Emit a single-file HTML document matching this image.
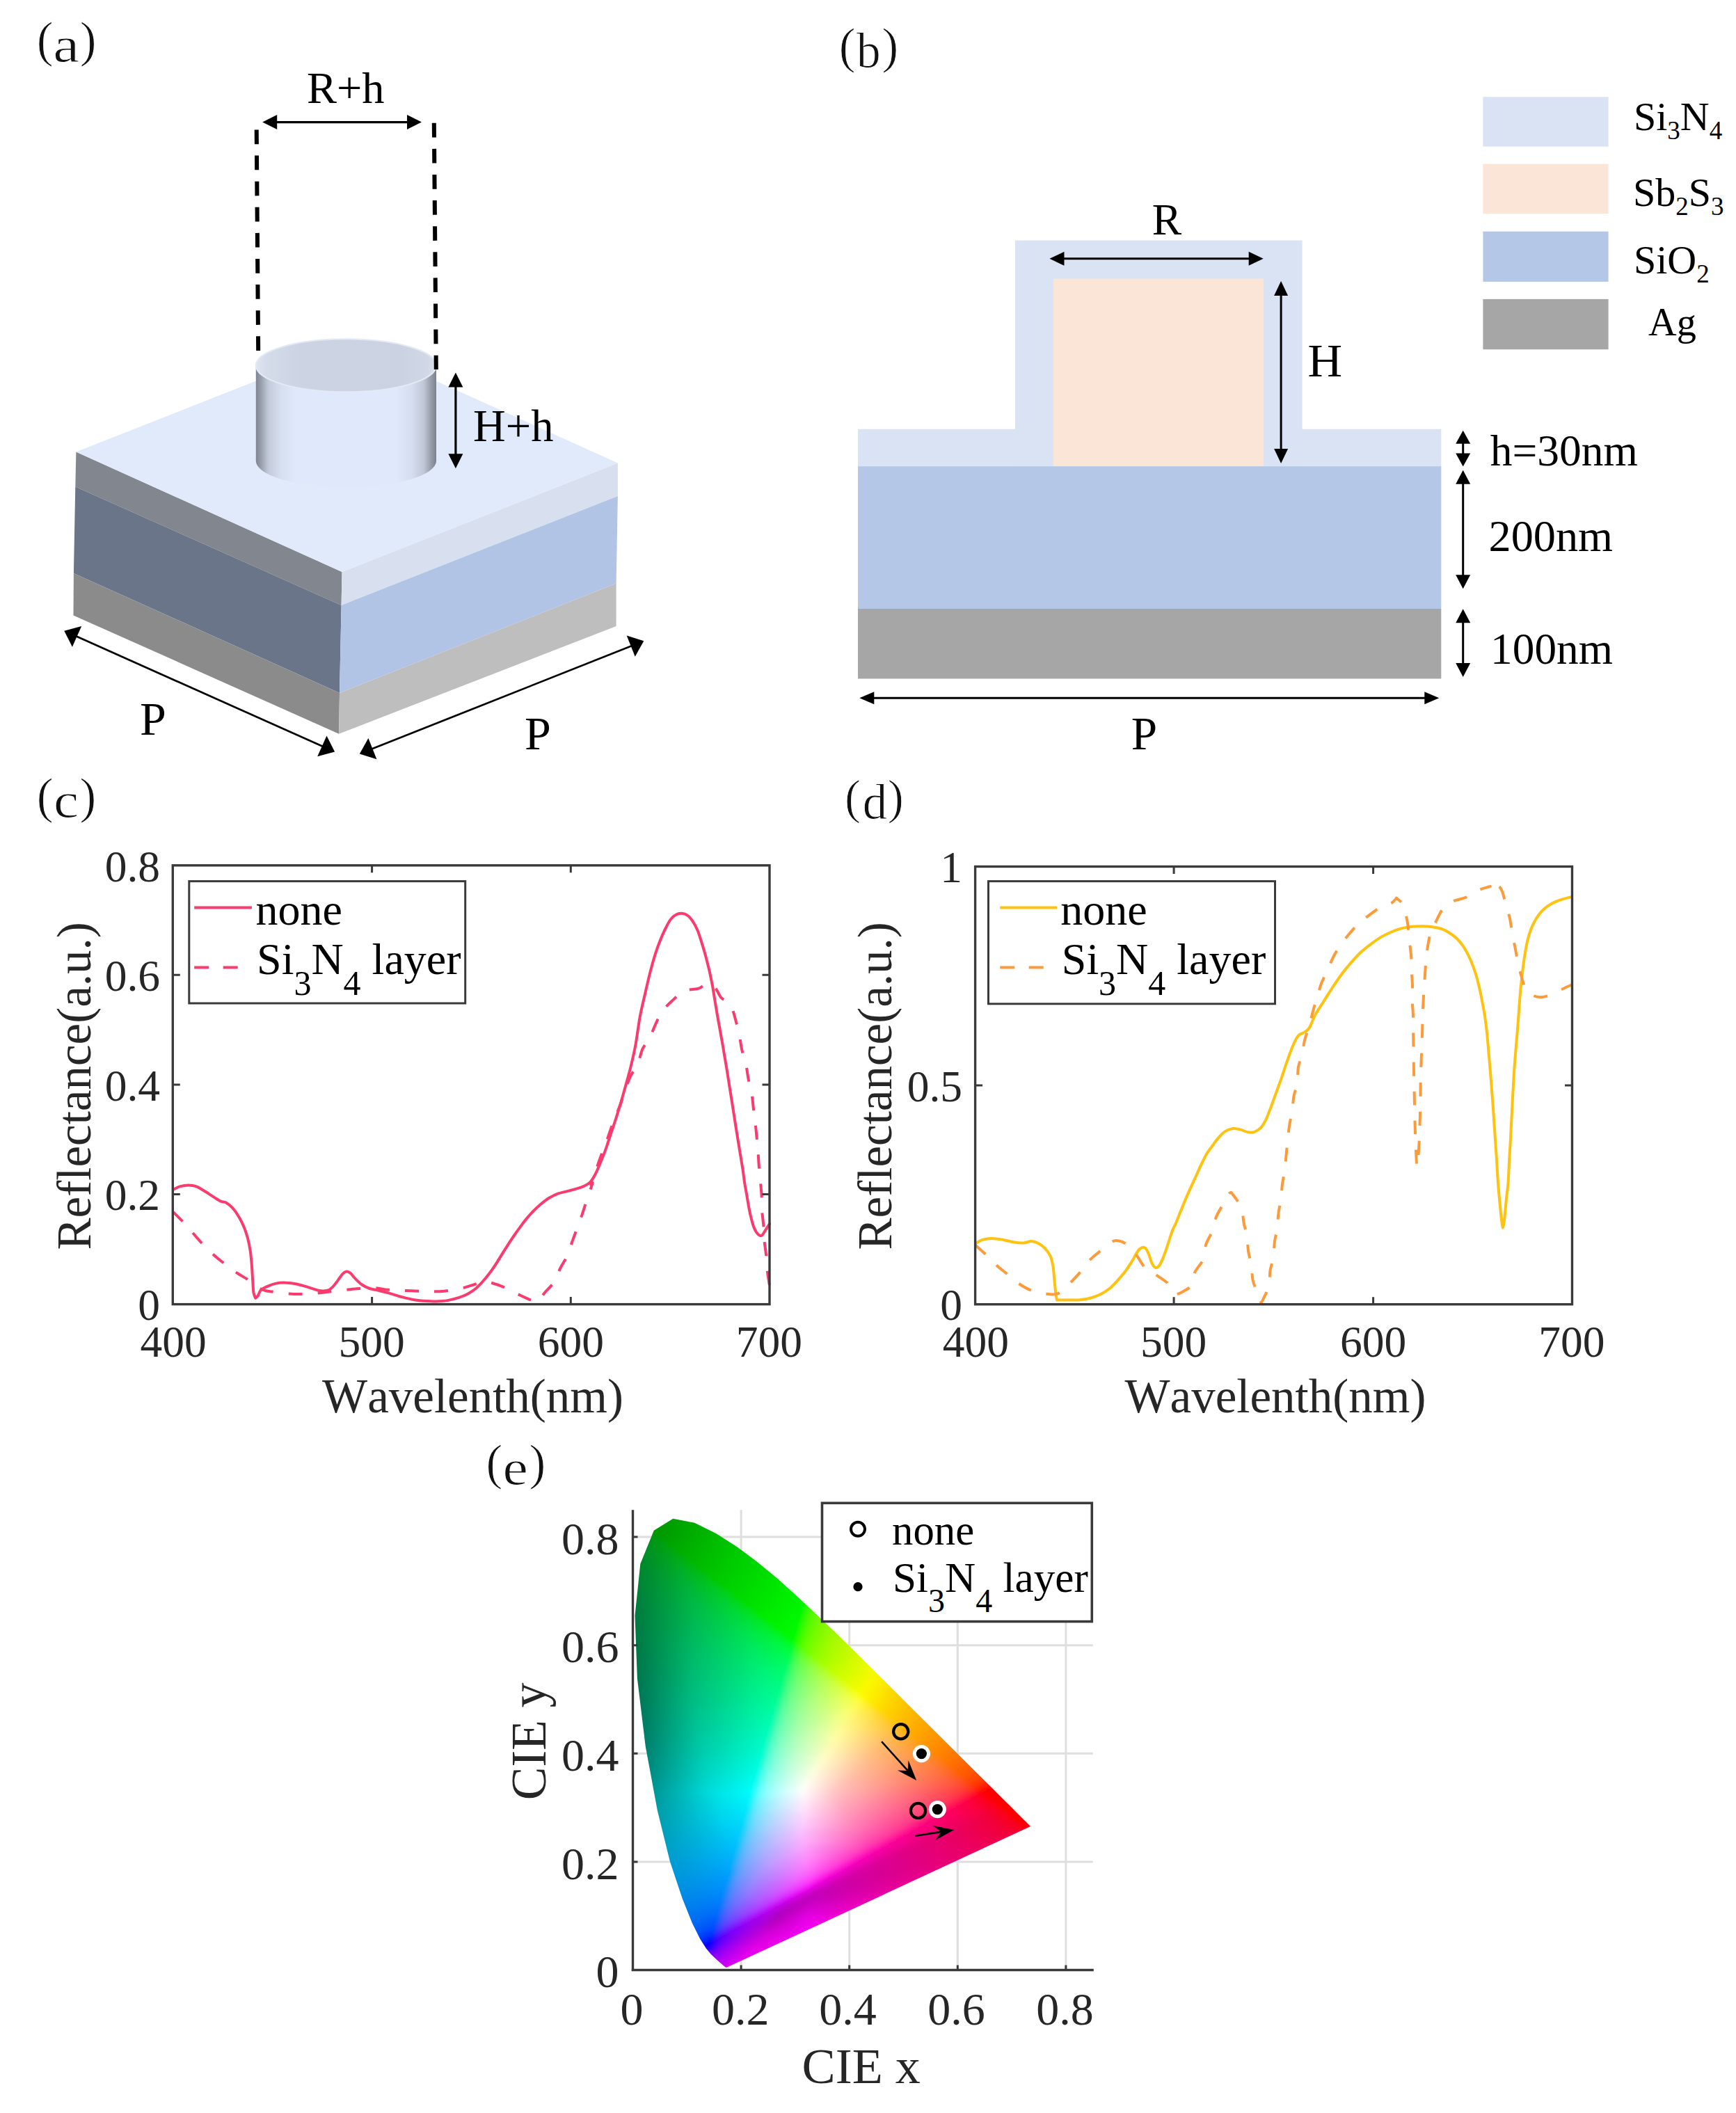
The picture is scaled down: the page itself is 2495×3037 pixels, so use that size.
<!DOCTYPE html>
<html><head><meta charset="utf-8"><title>Figure</title>
<style>
html,body{margin:0;padding:0;background:#fff}
svg{display:block}
text{font-family:"Liberation Serif",serif;font-kerning:none;font-variant-ligatures:none;white-space:pre}
</style></head><body>
<svg width="2495" height="3037" viewBox="0 0 2495 3037">
<rect width="2495" height="3037" fill="#fff"/>
<text fill="#111" stroke="#fff" stroke-width="0.9"><tspan x="52.7" y="80.8" font-size="71.4">(</tspan><tspan x="76.2" y="89.0" font-size="72" stroke-width="0.9" textLength="38.0" lengthAdjust="spacingAndGlyphs">a</tspan><tspan x="114.7" y="80.8" font-size="71.4">)</tspan></text>
<text fill="#111" stroke="#fff" stroke-width="0.9"><tspan x="1205.8" y="89.9" font-size="71.2">(</tspan><tspan x="1231.0" y="97.0" font-size="72" stroke-width="0.9" textLength="34.6" lengthAdjust="spacingAndGlyphs">b</tspan><tspan x="1267.4" y="89.9" font-size="71.2">)</tspan></text>
<text fill="#111" stroke="#fff" stroke-width="0.9"><tspan x="52.7" y="1167.7" font-size="71.4">(</tspan><tspan x="77.1" y="1175.2" font-size="72" stroke-width="0.9" textLength="36.0" lengthAdjust="spacingAndGlyphs">c</tspan><tspan x="114.4" y="1167.7" font-size="71.4">)</tspan></text>
<text fill="#111" stroke="#fff" stroke-width="0.9"><tspan x="1214.1" y="1168.6" font-size="69.3">(</tspan><tspan x="1239.7" y="1177.0" font-size="72" stroke-width="0.9" textLength="35.4" lengthAdjust="spacingAndGlyphs">d</tspan><tspan x="1275.7" y="1168.6" font-size="69.3">)</tspan></text>
<text fill="#111" stroke="#fff" stroke-width="0.9"><tspan x="698.4" y="2126.0" font-size="71.4">(</tspan><tspan x="722.5" y="2134.3" font-size="72" stroke-width="0.9" textLength="36.3" lengthAdjust="spacingAndGlyphs">e</tspan><tspan x="760.4" y="2126.0" font-size="71.4">)</tspan></text>
<g id="panelA">
<polygon points="109.4,649.6 491.5,822.0 490.6,869.9 108.3,699.5" fill="#82868f"/>
<polygon points="491.5,822.0 887.9,665.5 887.9,713.0 490.6,869.9" fill="#d8e0f0"/>
<polygon points="108.3,699.5 490.6,869.9 488.0,996.0 105.9,823.9" fill="#6a7589"/>
<polygon points="490.6,869.9 887.9,713.0 885.6,838.5 488.0,996.0" fill="#b1c4e5"/>
<polygon points="105.9,823.9 488.0,996.0 487.1,1054.8 105.5,884.4" fill="#8b8b8b"/>
<polygon points="488.0,996.0 885.6,838.5 885.6,900.0 487.1,1054.8" fill="#bebebe"/>
<polygon points="109.4,649.6 491.5,822.0 887.9,665.5 505.8,493.1" fill="#e1eafb"/>
<defs><linearGradient id="cylg" x1="0" x2="1" y1="0" y2="0">
<stop offset="0" stop-color="#7f8590"/><stop offset="0.03" stop-color="#9aa1ae"/><stop offset="0.07" stop-color="#c3cbda"/><stop offset="0.14" stop-color="#d6dff0"/><stop offset="0.22" stop-color="#e0e9fb"/>
<stop offset="0.78" stop-color="#e0e9fb"/><stop offset="0.86" stop-color="#d6dff0"/><stop offset="0.93" stop-color="#c0c8d7"/><stop offset="0.97" stop-color="#979eab"/><stop offset="1" stop-color="#7b818c"/></linearGradient>
<linearGradient id="cylt" x1="0" x2="1" y1="0" y2="0"><stop offset="0" stop-color="#e0e6f1"/><stop offset="0.06" stop-color="#d4dbe9"/><stop offset="0.25" stop-color="#ccd4e4"/><stop offset="0.8" stop-color="#cbd3e3"/><stop offset="0.95" stop-color="#d0d7e6"/><stop offset="1" stop-color="#dde3ee"/></linearGradient></defs>
<path d="M367.8,525.3 L367.8,662.4 A129.6,38.0 0 0 0 627.0,662.4 L627.0,525.3 Z" fill="url(#cylg)"/>
<ellipse cx="497.4" cy="525.3" rx="129.6" ry="38.0" fill="url(#cylt)" stroke="#e3e9f5" stroke-width="2"/>
<line x1="368.7" y1="186.5" x2="371.2" y2="505.5" stroke="#000" stroke-width="6" stroke-dasharray="20.7 16.4"/>
<line x1="623.8" y1="176.8" x2="626.8" y2="531" stroke="#000" stroke-width="6" stroke-dasharray="20.7 16.4"/>
<line x1="394.0" y1="175.6" x2="589.2" y2="175.6" stroke="#000" stroke-width="3.2"/>
<polygon points="377.2,175.6 398.2,165.1 398.2,186.1" fill="#000"/>
<polygon points="606.0,175.6 585.0,186.1 585.0,165.1" fill="#000"/>
<line x1="654.9" y1="552.4" x2="654.9" y2="656.4" stroke="#000" stroke-width="3.2"/>
<polygon points="654.9,535.6 665.4,556.6 644.4,556.6" fill="#000"/>
<polygon points="654.9,673.2 644.4,652.2 665.4,652.2" fill="#000"/>
<line x1="106.9" y1="913.2" x2="466.5" y2="1074.1" stroke="#000" stroke-width="2.7"/>
<polygon points="92.3,906.7 117.2,900.0 103.9,929.7" fill="#000"/>
<polygon points="481.1,1080.6 456.2,1087.3 469.5,1057.6" fill="#000"/>
<line x1="910.4" y1="927.2" x2="531.7" y2="1077.6" stroke="#000" stroke-width="2.7"/>
<polygon points="925.3,921.3 912.7,943.8 900.7,913.6" fill="#000"/>
<polygon points="516.8,1083.5 529.4,1061.0 541.4,1091.2" fill="#000"/>
<text x="441.0" y="148.0" font-size="64.4" fill="#000">R+h</text>
<text x="680.1" y="633.9" font-size="64.6" fill="#000">H+h</text>
<text x="201.0" y="1055.5" font-size="68.0" fill="#000">P</text>
<text x="754.0" y="1077.0" font-size="68.0" fill="#000">P</text>
</g>
<g id="panelB">
<rect x="1233" y="616.7" width="838.3" height="53.7" fill="#dae3f3"/>
<rect x="1458.9" y="345.6" width="412.7" height="324.8" fill="#dae3f3"/>
<rect x="1513.7" y="400.6" width="302.4" height="269.8" fill="#fbe5d6"/>
<rect x="1233" y="670.2" width="838.3" height="205.0" fill="#b4c7e7"/>
<rect x="1233" y="875.0" width="838.3" height="100.5" fill="#a6a6a6"/>
<rect x="2131.4" y="139.3" width="180.2" height="71.3" fill="#dae3f3"/>
<rect x="2131.4" y="235.6" width="180.2" height="71.4" fill="#fbe5d6"/>
<rect x="2131.4" y="332.7" width="180.2" height="72.2" fill="#b4c7e7"/>
<rect x="2131.4" y="429.9" width="180.2" height="72.3" fill="#a6a6a6"/>
<line x1="1525.3" y1="371.8" x2="1798.9" y2="371.8" stroke="#000" stroke-width="3"/>
<polygon points="1508.5,371.8 1529.5,361.8 1529.5,381.8" fill="#000"/>
<polygon points="1815.7,371.8 1794.7,381.8 1794.7,361.8" fill="#000"/>
<line x1="1841.1" y1="420.8" x2="1841.1" y2="649.3" stroke="#000" stroke-width="3"/>
<polygon points="1841.1,404.0 1851.1,425.0 1831.1,425.0" fill="#000"/>
<polygon points="1841.1,666.1 1831.1,645.1 1851.1,645.1" fill="#000"/>
<line x1="2102.7" y1="634.0" x2="2102.7" y2="655.4" stroke="#000" stroke-width="3"/>
<polygon points="2102.7,618.8 2113.2,637.8 2092.2,637.8" fill="#000"/>
<polygon points="2102.7,670.6 2092.2,651.6 2113.2,651.6" fill="#000"/>
<line x1="2102.7" y1="691.8" x2="2102.7" y2="830.2" stroke="#000" stroke-width="3"/>
<polygon points="2102.7,675.8 2113.2,695.8 2092.2,695.8" fill="#000"/>
<polygon points="2102.7,846.2 2092.2,826.2 2113.2,826.2" fill="#000"/>
<line x1="2102.7" y1="891.2" x2="2102.7" y2="957.0" stroke="#000" stroke-width="3"/>
<polygon points="2102.7,875.2 2113.2,895.2 2092.2,895.2" fill="#000"/>
<polygon points="2102.7,973.0 2092.2,953.0 2113.2,953.0" fill="#000"/>
<line x1="1252.1" y1="1003.2" x2="2051.5" y2="1003.2" stroke="#000" stroke-width="3"/>
<polygon points="1235.3,1003.2 1256.3,994.2 1256.3,1012.2" fill="#000"/>
<polygon points="2068.3,1003.2 2047.3,1012.2 2047.3,994.2" fill="#000"/>
<text x="1655.8" y="337.1" font-size="63.5" fill="#000">R</text>
<text x="1879.4" y="541.3" font-size="68.7" fill="#000">H</text>
<text x="2141.8" y="668.9" font-size="63.5" fill="#000">h=30nm</text>
<text x="2139.5" y="792.3" font-size="64.3" fill="#000">200nm</text>
<text x="2142.1" y="954.0" font-size="63.3" fill="#000">100nm</text>
<text x="1625.7" y="1077.4" font-size="67.2" fill="#000">P</text>
<text fill="#000"><tspan x="2348.0" y="187.1" font-size="58">Si</tspan><tspan x="2396.3" y="199.6" font-size="37">3</tspan><tspan x="2414.8" y="187.1" font-size="58">N</tspan><tspan x="2456.7" y="199.6" font-size="37">4</tspan></text>
<text fill="#000"><tspan x="2347.0" y="296.3" font-size="58">Sb</tspan><tspan x="2408.2" y="308.8" font-size="37">2</tspan><tspan x="2426.7" y="296.3" font-size="58">S</tspan><tspan x="2458.9" y="308.8" font-size="37">3</tspan></text>
<text fill="#000"><tspan x="2348.0" y="393.0" font-size="58">SiO</tspan><tspan x="2438.2" y="405.5" font-size="37">2</tspan></text>
<text x="2369.0" y="481.8" font-size="56.3" fill="#000">Ag</text>
</g>
<g id="plotC">
<clipPath id="cpC"><rect x="248.3" y="1243.8" width="859.7" height="630.8"/></clipPath>
<g clip-path="url(#cpC)" fill="none" stroke-width="4" stroke-linejoin="round">
<path d="M248.3,1710.0 C249.9,1709.3 254.7,1706.5 258.4,1705.4 C262.1,1704.4 267.5,1703.6 271.3,1703.6 C275.2,1703.6 278.6,1704.0 282.4,1705.4 C286.2,1706.9 291.2,1710.3 295.3,1712.8 C299.4,1715.3 304.7,1718.9 308.2,1721.1 C311.7,1723.3 314.8,1725.5 317.4,1726.6 C320.1,1727.8 322.1,1727.0 324.8,1728.5 C327.4,1730.0 331.1,1732.6 334.0,1735.9 C337.0,1739.1 340.6,1744.3 343.2,1748.8 C345.9,1753.2 348.5,1758.5 350.6,1763.5 C352.7,1768.5 354.7,1774.5 356.1,1780.1 C357.6,1785.7 358.9,1792.6 359.8,1798.5 C360.7,1804.4 361.1,1810.5 361.7,1817.0 C362.2,1823.4 362.7,1832.6 363.1,1839.1 C363.6,1845.6 363.8,1853.2 364.4,1857.5 C365.1,1861.8 366.7,1864.5 367.2,1865.8 C367.8,1865.2 369.7,1863.9 370.9,1862.1 C372.1,1860.4 372.5,1856.8 374.6,1854.7 C376.6,1852.7 380.2,1850.8 383.8,1849.2 C387.3,1847.6 392.3,1845.5 396.7,1844.6 C401.1,1843.7 406.7,1843.5 411.4,1843.7 C416.1,1843.8 421.2,1844.5 426.2,1845.5 C431.2,1846.6 437.8,1848.7 442.8,1850.1 C447.8,1851.6 453.1,1854.0 457.5,1854.7 C461.9,1855.5 467.2,1855.5 470.4,1854.7 C473.7,1854.0 475.4,1852.4 477.8,1850.1 C480.1,1847.9 482.8,1844.0 485.2,1840.9 C487.5,1837.8 490.5,1832.9 492.5,1830.8 C494.6,1828.7 496.3,1827.8 498.1,1827.6 C499.8,1827.5 501.5,1828.2 503.6,1829.9 C505.7,1831.5 508.3,1835.5 511.0,1838.2 C513.6,1840.8 516.9,1844.2 520.2,1846.5 C523.4,1848.7 527.4,1850.7 531.2,1852.0 C535.1,1853.3 539.8,1853.7 544.1,1854.7 C548.5,1855.8 553.2,1857.0 558.4,1858.4 C563.7,1859.9 571.0,1862.4 576.9,1864.0 C582.8,1865.5 589.4,1867.2 595.3,1868.2 C601.2,1869.2 608.7,1869.7 613.7,1870.0 C618.7,1870.4 621.9,1870.6 626.6,1870.4 C631.4,1870.3 637.9,1870.0 643.2,1869.1 C648.5,1868.2 655.1,1866.4 659.8,1864.9 C664.5,1863.3 668.9,1861.4 672.7,1859.4 C676.6,1857.3 680.5,1854.6 683.8,1852.0 C687.0,1849.3 690.0,1846.0 693.0,1842.8 C695.9,1839.5 699.3,1835.5 702.2,1831.7 C705.2,1827.9 708.5,1823.2 711.4,1818.8 C714.4,1814.4 717.7,1808.8 720.6,1804.1 C723.6,1799.3 726.9,1793.9 729.9,1789.3 C732.8,1784.7 736.1,1779.8 739.1,1775.5 C742.0,1771.2 745.3,1766.6 748.3,1762.6 C751.2,1758.6 754.6,1754.1 757.5,1750.6 C760.5,1747.1 763.5,1743.7 766.7,1740.5 C770.0,1737.2 774.2,1733.3 777.8,1730.3 C781.3,1727.4 785.0,1724.4 788.8,1722.0 C792.7,1719.7 797.0,1717.3 801.8,1715.6 C806.5,1713.9 812.8,1712.9 818.4,1711.3 C824.1,1709.8 832.1,1707.7 836.9,1705.8 C841.6,1703.9 845.0,1702.2 847.9,1699.4 C850.9,1696.6 852.9,1692.7 855.3,1688.3 C857.7,1683.9 860.3,1677.3 862.7,1671.7 C865.0,1666.1 867.7,1659.8 870.0,1653.3 C872.4,1646.8 875.1,1638.2 877.4,1631.2 C879.8,1624.1 882.4,1616.4 884.8,1609.0 C887.2,1601.7 889.8,1593.0 892.2,1585.1 C894.5,1577.1 897.2,1567.8 899.5,1559.3 C901.9,1550.7 904.7,1540.8 906.9,1531.6 C909.1,1522.5 911.3,1513.4 913.4,1502.1 C915.4,1490.9 917.6,1473.1 919.8,1461.2 C922.0,1449.3 924.8,1438.3 927.2,1428.0 C929.5,1417.7 932.2,1405.8 934.6,1396.7 C936.9,1387.5 939.6,1378.2 941.9,1370.9 C944.3,1363.5 946.9,1356.5 949.3,1350.6 C951.7,1344.7 954.3,1338.7 956.7,1334.0 C959.0,1329.3 961.7,1324.2 964.1,1321.1 C966.4,1318.0 968.9,1316.0 971.4,1314.7 C973.9,1313.3 977.1,1312.7 979.7,1312.8 C982.4,1313.0 985.5,1313.8 988.0,1315.6 C990.5,1317.3 993.0,1320.3 995.4,1323.9 C997.8,1327.4 1000.7,1332.8 1002.8,1337.7 C1004.8,1342.6 1006.5,1348.7 1008.3,1354.3 C1010.1,1359.9 1012.1,1366.2 1013.8,1372.7 C1015.6,1379.2 1017.7,1387.8 1019.4,1394.8 C1021.0,1401.9 1022.6,1409.9 1024.0,1417.0 C1025.3,1424.0 1026.5,1432.0 1027.6,1439.1 C1028.8,1446.2 1029.8,1452.4 1031.3,1461.2 C1032.9,1470.0 1035.9,1486.4 1037.2,1493.8 C1038.6,1501.3 1038.4,1500.1 1039.6,1507.6 C1040.9,1515.2 1043.4,1529.9 1045.2,1540.8 C1046.9,1551.7 1048.9,1564.6 1050.7,1575.9 C1052.5,1587.1 1054.5,1599.7 1056.2,1610.9 C1058.0,1622.1 1060.0,1635.0 1061.8,1645.9 C1063.5,1656.8 1065.9,1670.4 1067.3,1679.1 C1068.6,1687.7 1069.3,1694.4 1070.1,1700.0 C1071.0,1705.6 1071.7,1708.7 1072.6,1713.8 C1073.5,1719.0 1074.7,1726.8 1075.7,1732.3 C1076.7,1737.7 1077.7,1743.1 1078.9,1747.9 C1080.1,1752.8 1081.6,1758.8 1083.0,1762.7 C1084.4,1766.5 1086.2,1769.8 1087.6,1771.9 C1089.1,1774.0 1091.0,1775.5 1092.3,1776.0 C1093.5,1776.6 1094.2,1776.4 1095.5,1775.1 C1096.7,1773.9 1098.6,1770.5 1100.1,1768.2 C1101.6,1765.9 1103.5,1762.5 1104.7,1760.8 C1105.9,1759.1 1107.0,1758.1 1107.5,1757.6" stroke="#fb3b6e"/>
<path d="M248.3,1741.4 C250.5,1743.6 257.5,1750.3 262.1,1755.2 C266.7,1760.1 272.4,1766.8 276.9,1771.8 C281.3,1776.8 285.1,1781.5 289.8,1786.5 C294.5,1791.6 301.3,1798.6 306.4,1803.1 C311.4,1807.7 315.8,1811.0 321.1,1815.1 C326.4,1819.2 333.9,1825.1 339.5,1828.9 C345.1,1832.8 351.4,1835.8 356.1,1839.1 C360.8,1842.3 365.2,1846.7 369.0,1849.2 C372.9,1851.7 376.6,1853.6 380.1,1854.7 C383.6,1855.9 385.5,1855.9 391.2,1856.6 C396.8,1857.3 408.3,1858.8 415.1,1859.4 C421.9,1859.9 426.8,1860.1 433.5,1859.9 C440.3,1859.8 451.0,1859.0 457.5,1858.4 C464.0,1857.9 467.6,1857.3 474.1,1856.6 C480.6,1855.9 491.3,1854.6 498.1,1853.8 C504.8,1853.1 510.0,1852.4 516.5,1852.0 C523.0,1851.5 531.9,1850.8 538.6,1851.1 C545.3,1851.4 550.0,1853.1 558.4,1853.8 C566.9,1854.5 579.8,1854.9 591.6,1855.3 C603.4,1855.7 622.7,1856.5 632.2,1856.2 C641.6,1856.0 644.7,1854.8 650.6,1853.8 C656.5,1852.9 663.7,1851.5 669.0,1850.1 C674.3,1848.8 679.4,1846.8 683.8,1845.5 C688.2,1844.3 693.1,1842.7 696.7,1842.4 C700.2,1842.1 701.5,1842.4 705.9,1843.7 C710.3,1844.9 718.1,1847.5 724.3,1850.1 C730.5,1852.8 738.4,1857.3 744.6,1860.3 C750.8,1863.2 758.5,1866.9 763.0,1868.6 C767.6,1870.3 771.6,1870.4 773.2,1870.8 C774.8,1868.7 779.6,1862.0 783.3,1857.5 C787.0,1853.0 792.7,1848.4 796.2,1842.8 C799.8,1837.2 802.5,1828.4 805.4,1822.5 C808.4,1816.6 812.0,1811.8 814.7,1805.9 C817.3,1800.0 819.7,1792.1 822.0,1785.6 C824.4,1779.1 827.0,1771.8 829.4,1765.3 C831.8,1758.9 834.6,1751.6 836.8,1745.1 C839.0,1738.6 840.9,1731.9 843.2,1724.8 C845.6,1717.7 850.5,1704.6 851.5,1700.8 C852.6,1697.1 848.0,1707.0 849.8,1701.2 C851.6,1695.4 859.4,1673.2 862.7,1664.3 C865.9,1655.5 867.7,1652.4 870.0,1645.9 C872.4,1639.4 875.2,1630.0 877.4,1623.8 C879.6,1617.6 881.5,1613.2 883.9,1607.2 C886.2,1601.1 889.5,1593.4 892.2,1586.0 C894.8,1578.6 898.1,1567.6 900.5,1561.1 C902.8,1554.6 904.4,1550.3 906.9,1545.4 C909.4,1540.6 913.5,1536.7 916.1,1530.7 C918.8,1524.6 920.7,1513.8 923.5,1507.6 C926.3,1501.5 930.5,1498.1 933.6,1492.0 C936.8,1485.8 940.4,1475.6 943.4,1469.3 C946.4,1463.0 948.4,1458.0 952.2,1452.8 C956.0,1447.6 962.5,1441.7 967.4,1437.1 C972.3,1432.5 977.0,1426.9 982.7,1424.3 C988.4,1421.7 998.2,1422.3 1002.9,1421.0 C1007.6,1419.7 1009.2,1417.3 1012.2,1416.2 C1015.2,1415.1 1019.1,1413.6 1021.8,1414.4 C1024.5,1415.2 1026.9,1418.4 1029.2,1421.5 C1031.5,1424.6 1033.9,1431.0 1036.3,1433.8 C1038.7,1436.6 1042.0,1437.1 1044.4,1439.3 C1046.8,1441.5 1049.2,1442.6 1051.4,1447.3 C1053.6,1452.0 1056.1,1461.8 1057.9,1468.5 C1059.7,1475.2 1061.6,1482.9 1062.9,1489.4 C1064.2,1495.9 1064.8,1502.5 1066.3,1509.0 C1067.8,1515.5 1070.6,1523.1 1072.1,1529.8 C1073.6,1536.5 1074.3,1544.5 1075.6,1551.0 C1076.9,1557.5 1079.0,1563.5 1080.2,1570.3 C1081.4,1577.1 1082.1,1586.7 1082.9,1593.4 C1083.8,1600.0 1084.6,1605.2 1085.3,1611.8 C1086.1,1618.4 1086.9,1628.1 1087.6,1634.8 C1088.2,1641.6 1088.9,1647.4 1089.4,1654.2 C1089.9,1661.0 1090.3,1670.5 1090.9,1677.2 C1091.4,1684.0 1092.1,1690.0 1092.7,1696.6 C1093.3,1703.2 1094.2,1711.5 1094.6,1718.4 C1094.9,1725.3 1094.6,1732.8 1095.0,1739.6 C1095.5,1746.4 1096.8,1754.2 1097.3,1760.8 C1097.8,1767.5 1097.7,1774.3 1098.2,1781.1 C1098.8,1787.9 1100.4,1796.4 1101.0,1803.2 C1101.7,1810.0 1101.7,1816.7 1102.4,1823.5 C1103.1,1830.3 1104.8,1840.3 1105.6,1845.6 C1106.4,1850.9 1107.2,1854.9 1107.5,1856.7" stroke="#fb3b6e" stroke-dasharray="20 22"/>
</g>
<rect x="248.3" y="1243.8" width="857.7" height="630.8" fill="none" stroke="#3a3a3a" stroke-width="3.4"/>
<path d="M534.6,1874.6 v-10.5 M534.6,1243.8 v10.5" stroke="#3a3a3a" stroke-width="3"/>
<path d="M820.3,1874.6 v-10.5 M820.3,1243.8 v10.5" stroke="#3a3a3a" stroke-width="3"/>
<path d="M248.3,1401.3 h10.5 M1106.0,1401.3 h-10.5" stroke="#3a3a3a" stroke-width="3"/>
<path d="M248.3,1558.9 h10.5 M1106.0,1558.9 h-10.5" stroke="#3a3a3a" stroke-width="3"/>
<path d="M248.3,1716.5 h10.5 M1106.0,1716.5 h-10.5" stroke="#3a3a3a" stroke-width="3"/>
<text x="201.5" y="1950.3" font-size="63.5" fill="#262626">400</text>
<text x="486.6" y="1950.3" font-size="63.5" fill="#262626">500</text>
<text x="772.8" y="1950.3" font-size="63.5" fill="#262626">600</text>
<text x="1057.8" y="1950.3" font-size="63.5" fill="#262626">700</text>
<text x="230.0" y="1266.6" font-size="63.5" fill="#262626" text-anchor="end">0.8</text>
<text x="230.0" y="1424.1" font-size="63.5" fill="#262626" text-anchor="end">0.6</text>
<text x="230.0" y="1581.7" font-size="63.5" fill="#262626" text-anchor="end">0.4</text>
<text x="230.0" y="1739.3" font-size="63.5" fill="#262626" text-anchor="end">0.2</text>
<text x="230.0" y="1897.3" font-size="63.5" fill="#262626" text-anchor="end">0</text>
<text x="463.0" y="2030.0" font-size="69.0" fill="#262626">Wavelenth(nm)</text>
<text transform="translate(129.6,1796.4) rotate(-90)" font-size="69.0" fill="#262626">Reflectance(a.u.)</text>
<rect x="271.8" y="1266.6" width="396.90000000000003" height="175.4000000000001" fill="#fff" stroke="#3a3a3a" stroke-width="3"/>
<line x1="279.2" y1="1304.4" x2="361.9" y2="1304.4" stroke="#fb3b6e" stroke-width="4"/>
<line x1="279.2" y1="1390.5" x2="361.9" y2="1390.5" stroke="#fb3b6e" stroke-width="4" stroke-dasharray="21 20.5"/>
<text x="367.6" y="1328.6" font-size="64" fill="#000">none</text>
<text fill="#000"><tspan x="369.1" y="1399.6" font-size="64">Si</tspan><tspan x="422.4" y="1429.6" font-size="50">3</tspan><tspan x="447.4" y="1399.6" font-size="64">N</tspan><tspan x="493.6" y="1429.6" font-size="50">4</tspan><tspan x="518.6" y="1399.6" font-size="64"> layer</tspan></text>
</g>
<g id="plotD">
<clipPath id="cpD"><rect x="1401.6" y="1245.5" width="859.9000000000001" height="629.2"/></clipPath>
<g clip-path="url(#cpD)" fill="none" stroke-width="4" stroke-linejoin="round">
<path d="M1401.6,1787.5 C1403.3,1786.6 1408.4,1783.1 1412.1,1781.9 C1415.9,1780.8 1420.3,1780.1 1425.0,1780.1 C1429.7,1780.1 1436.3,1781.1 1441.6,1781.9 C1446.9,1782.8 1453.5,1784.9 1458.2,1785.6 C1462.9,1786.4 1467.3,1786.8 1471.1,1786.5 C1474.9,1786.3 1478.6,1784.0 1482.2,1784.1 C1485.7,1784.3 1490.0,1785.8 1493.2,1787.5 C1496.5,1789.2 1499.8,1791.9 1502.4,1794.8 C1505.1,1797.8 1508.0,1801.8 1509.8,1805.9 C1511.6,1810.0 1512.6,1815.3 1513.5,1820.6 C1514.4,1826.0 1514.8,1833.2 1515.3,1839.1 C1515.9,1845.0 1516.6,1852.8 1517.2,1857.5 C1517.8,1862.2 1518.7,1866.8 1519.0,1868.6 C1521.4,1868.6 1528.5,1868.6 1533.8,1868.6 C1539.1,1868.5 1546.9,1868.6 1552.2,1868.2 C1557.5,1867.8 1562.2,1867.1 1567.0,1865.8 C1571.7,1864.5 1577.3,1862.5 1581.7,1860.3 C1586.1,1858.1 1590.8,1855.1 1594.6,1852.0 C1598.4,1848.9 1602.1,1844.8 1605.7,1840.9 C1609.2,1837.1 1613.2,1832.7 1616.7,1828.0 C1620.3,1823.3 1624.8,1816.1 1627.8,1811.4 C1630.7,1806.7 1633.1,1801.4 1635.2,1798.5 C1637.2,1795.6 1638.9,1794.1 1640.7,1793.4 C1642.5,1792.6 1644.6,1792.5 1646.2,1793.9 C1647.8,1795.3 1649.4,1798.8 1650.8,1802.2 C1652.3,1805.6 1654.0,1812.0 1655.4,1815.1 C1656.9,1818.2 1658.6,1820.7 1660.0,1821.6 C1661.5,1822.5 1663.0,1822.3 1664.7,1820.6 C1666.3,1819.0 1668.1,1816.1 1670.2,1811.4 C1672.2,1806.7 1675.2,1797.9 1677.6,1791.2 C1679.9,1784.4 1682.9,1774.3 1684.9,1769.0 C1686.9,1763.7 1688.0,1762.7 1690.0,1758.0 C1692.0,1753.3 1694.7,1746.0 1697.4,1739.5 C1700.0,1733.1 1703.6,1724.2 1706.6,1717.4 C1709.5,1710.6 1712.9,1703.6 1715.8,1697.1 C1718.8,1690.7 1722.1,1683.1 1725.0,1676.9 C1728.0,1670.7 1731.3,1663.4 1734.2,1658.4 C1737.2,1653.4 1741.1,1648.8 1743.5,1645.5 C1745.8,1642.2 1746.3,1640.8 1749.0,1637.8 C1751.6,1634.8 1756.5,1629.2 1760.0,1626.7 C1763.6,1624.2 1767.6,1622.7 1771.1,1622.1 C1774.6,1621.6 1778.6,1622.6 1782.2,1623.4 C1785.7,1624.2 1790.0,1626.5 1793.2,1627.1 C1796.5,1627.7 1799.5,1628.0 1802.4,1627.1 C1805.4,1626.2 1809.0,1623.9 1811.7,1621.2 C1814.3,1618.5 1816.7,1614.9 1819.0,1610.1 C1821.4,1605.4 1824.0,1597.9 1826.4,1591.7 C1828.8,1585.5 1831.4,1577.9 1833.8,1571.4 C1836.1,1564.9 1838.8,1557.9 1841.2,1551.2 C1843.5,1544.4 1846.2,1535.8 1848.5,1529.0 C1850.9,1522.2 1853.8,1514.1 1855.9,1508.8 C1858.0,1503.4 1859.7,1499.2 1861.4,1495.9 C1863.2,1492.5 1864.9,1489.5 1867.0,1487.6 C1869.0,1485.6 1872.0,1485.5 1874.3,1483.9 C1876.7,1482.2 1879.1,1481.6 1881.7,1477.4 C1884.3,1473.2 1887.3,1463.9 1890.8,1457.5 C1894.4,1451.1 1899.6,1443.7 1903.7,1437.2 C1907.9,1430.7 1912.5,1423.2 1916.6,1417.0 C1920.8,1410.8 1925.4,1404.0 1929.5,1398.5 C1933.7,1393.1 1938.3,1387.6 1942.4,1382.9 C1946.6,1378.1 1950.9,1373.2 1955.3,1369.0 C1959.8,1364.9 1965.4,1360.6 1970.1,1357.1 C1974.8,1353.5 1980.1,1349.7 1984.8,1346.9 C1989.6,1344.1 1994.9,1341.5 1999.6,1339.5 C2004.3,1337.5 2009.6,1335.6 2014.3,1334.4 C2019.1,1333.1 2024.4,1332.3 2029.1,1331.8 C2033.8,1331.3 2039.1,1331.2 2043.8,1331.2 C2048.5,1331.3 2054.1,1331.6 2058.6,1332.2 C2063.0,1332.8 2067.6,1333.6 2071.5,1334.9 C2075.3,1336.3 2079.0,1338.2 2082.5,1340.5 C2086.1,1342.7 2090.4,1345.7 2093.6,1348.8 C2096.8,1351.9 2100.2,1356.0 2102.8,1359.8 C2105.5,1363.6 2108.0,1368.3 2110.2,1372.7 C2112.4,1377.1 2114.7,1382.5 2116.6,1387.5 C2118.6,1392.5 2120.5,1398.5 2122.2,1404.1 C2123.8,1409.7 2125.4,1416.6 2126.8,1422.5 C2128.1,1428.4 2129.3,1434.7 2130.5,1440.9 C2131.6,1447.1 2133.1,1454.3 2134.1,1461.2 C2135.2,1468.1 2136.1,1475.1 2137.0,1484.0 C2137.9,1492.9 2138.9,1505.7 2139.9,1516.9 C2140.9,1528.1 2142.1,1541.9 2143.0,1553.7 C2143.9,1565.5 2145.0,1578.8 2145.8,1590.6 C2146.6,1602.4 2147.5,1615.7 2148.3,1627.5 C2149.1,1639.3 2150.0,1652.7 2150.8,1664.3 C2151.6,1675.9 2152.3,1690.6 2153.0,1700.0 C2153.7,1709.4 2154.3,1715.6 2155.0,1723.0 C2155.7,1730.4 2156.6,1740.2 2157.2,1746.0 C2157.8,1751.8 2158.4,1756.0 2158.8,1759.0 C2159.2,1762.0 2159.7,1763.6 2159.9,1764.5 C2160.1,1763.6 2160.7,1762.0 2161.2,1759.0 C2161.7,1756.0 2162.2,1751.8 2162.8,1746.0 C2163.4,1740.2 2164.2,1730.4 2165.0,1723.0 C2165.8,1715.6 2166.8,1709.4 2167.5,1700.0 C2168.2,1690.6 2168.7,1674.1 2169.3,1664.0 C2169.9,1653.9 2170.4,1648.4 2171.0,1636.7 C2171.6,1625.0 2172.5,1605.4 2173.3,1590.6 C2174.1,1575.8 2175.0,1557.8 2175.8,1544.5 C2176.6,1531.2 2177.8,1517.8 2178.6,1507.6 C2179.4,1497.4 2180.2,1489.1 2180.9,1480.8 C2181.6,1472.4 2182.2,1463.5 2182.8,1455.4 C2183.4,1447.3 2184.0,1438.2 2184.7,1430.1 C2185.4,1422.0 2186.3,1412.9 2187.2,1404.7 C2188.1,1396.6 2189.2,1387.5 2190.4,1379.4 C2191.6,1371.3 2193.2,1361.2 2194.8,1354.1 C2196.4,1347.0 2198.4,1340.5 2200.5,1335.0 C2202.7,1329.6 2205.3,1324.3 2208.1,1319.8 C2211.0,1315.4 2214.6,1310.6 2218.3,1307.2 C2221.9,1303.7 2226.7,1300.6 2230.9,1298.3 C2235.2,1296.0 2240.3,1294.1 2244.9,1292.6 C2249.4,1291.1 2257.1,1289.4 2259.5,1288.8" stroke="#ffc20e"/>
<path d="M1401.6,1789.3 C1403.9,1791.4 1410.9,1797.5 1415.8,1802.2 C1420.7,1806.9 1427.4,1814.2 1432.4,1818.8 C1437.4,1823.4 1442.1,1826.7 1447.1,1830.8 C1452.2,1834.9 1458.1,1840.8 1463.7,1844.6 C1469.3,1848.4 1475.7,1852.3 1482.2,1854.7 C1488.7,1857.2 1498.4,1858.9 1504.3,1859.7 C1510.2,1860.5 1514.9,1861.0 1519.0,1859.7 C1523.2,1858.5 1526.8,1854.7 1530.1,1852.0 C1533.3,1849.3 1535.8,1846.5 1539.3,1842.8 C1542.8,1839.1 1547.9,1834.0 1552.2,1828.9 C1556.5,1823.9 1561.5,1816.3 1566.0,1811.4 C1570.6,1806.6 1575.6,1802.8 1580.8,1798.5 C1585.9,1794.2 1594.0,1787.1 1598.3,1784.7 C1602.6,1782.3 1604.4,1783.0 1607.5,1783.4 C1610.6,1783.9 1613.5,1784.2 1617.6,1787.5 C1621.8,1790.8 1628.9,1798.6 1633.3,1804.1 C1637.7,1809.5 1640.7,1817.0 1645.3,1821.6 C1649.9,1826.1 1656.6,1828.9 1661.9,1832.6 C1667.2,1836.3 1674.4,1840.5 1678.5,1844.6 C1682.6,1848.7 1685.3,1856.1 1687.7,1858.4 C1690.1,1860.8 1691.3,1859.9 1693.7,1859.4 C1696.1,1858.8 1700.0,1856.7 1702.9,1854.7 C1705.9,1852.8 1709.8,1851.6 1712.1,1847.4 C1714.5,1843.1 1714.8,1834.1 1717.6,1828.0 C1720.5,1822.0 1727.1,1815.9 1729.6,1809.6 C1732.1,1803.2 1731.3,1794.9 1733.3,1788.4 C1735.4,1781.9 1740.2,1775.4 1742.5,1769.0 C1744.9,1762.7 1745.6,1754.9 1748.1,1748.8 C1750.6,1742.6 1755.1,1735.8 1758.2,1730.3 C1761.3,1724.9 1765.1,1716.6 1767.4,1714.7 C1769.8,1712.7 1770.3,1714.9 1772.9,1718.3 C1775.6,1721.7 1781.6,1729.5 1784.0,1735.9 C1786.4,1742.2 1786.4,1751.3 1787.7,1758.0 C1789.0,1764.6 1791.3,1770.8 1792.3,1777.3 C1793.3,1783.8 1793.1,1791.7 1794.1,1798.5 C1795.2,1805.3 1797.7,1813.1 1798.8,1819.7 C1799.8,1826.4 1799.1,1833.4 1800.6,1840.0 C1802.1,1846.6 1806.1,1856.0 1808.0,1861.2 C1809.9,1866.4 1811.8,1870.8 1812.6,1872.6 C1813.0,1871.8 1813.6,1871.5 1815.3,1867.6 C1817.1,1863.8 1822.0,1854.9 1823.6,1848.3 C1825.3,1841.7 1824.5,1832.8 1825.5,1826.2 C1826.5,1819.5 1829.1,1813.5 1830.1,1806.8 C1831.1,1800.2 1831.1,1791.3 1831.9,1784.7 C1832.8,1778.1 1834.7,1772.0 1835.6,1765.3 C1836.5,1758.7 1836.6,1750.0 1837.5,1743.2 C1838.4,1736.4 1840.3,1729.6 1841.2,1722.9 C1842.0,1716.3 1842.1,1708.4 1843.0,1701.8 C1843.9,1695.1 1845.8,1688.1 1846.7,1681.5 C1847.6,1674.8 1848.0,1666.1 1848.5,1660.3 C1849.1,1654.5 1849.3,1652.0 1850.0,1645.2 C1850.7,1638.3 1852.0,1624.9 1853.1,1617.5 C1854.2,1610.1 1855.8,1605.9 1856.8,1599.1 C1857.9,1592.3 1858.4,1581.8 1859.6,1575.1 C1860.8,1568.5 1863.2,1564.2 1864.2,1557.6 C1865.2,1551.0 1864.9,1540.4 1866.0,1533.6 C1867.2,1526.9 1870.1,1521.5 1871.6,1515.2 C1873.0,1508.9 1873.6,1500.5 1875.3,1494.0 C1876.9,1487.5 1879.8,1481.2 1881.7,1474.7 C1883.6,1468.1 1885.4,1459.3 1887.1,1452.9 C1888.9,1446.5 1890.8,1440.8 1892.7,1434.5 C1894.6,1428.1 1896.8,1419.5 1899.1,1413.3 C1901.5,1407.1 1904.6,1402.0 1907.4,1395.8 C1910.2,1389.6 1913.4,1380.8 1916.6,1374.6 C1919.9,1368.4 1923.9,1362.5 1927.7,1357.1 C1931.5,1351.6 1936.3,1345.5 1940.6,1340.5 C1944.9,1335.4 1949.7,1330.0 1954.4,1325.7 C1959.1,1321.4 1965.1,1317.4 1970.1,1313.7 C1975.1,1310.0 1980.9,1305.3 1985.8,1302.7 C1990.6,1300.1 1997.1,1299.4 2000.5,1297.5 C2003.9,1295.6 2005.9,1291.8 2007.0,1290.7 C2008.4,1292.1 2014.1,1296.0 2016.2,1299.4 C2018.2,1302.7 2018.7,1306.9 2019.9,1311.9 C2021.0,1316.8 2022.6,1323.7 2023.5,1330.3 C2024.5,1337.0 2025.0,1346.3 2025.8,1353.4 C2026.5,1360.4 2027.7,1367.8 2028.2,1374.6 C2028.6,1381.3 2028.4,1389.0 2028.7,1395.8 C2029.0,1402.5 2029.9,1410.2 2030.0,1417.0 C2030.1,1423.7 2029.5,1431.5 2029.6,1438.2 C2029.8,1444.8 2030.7,1451.7 2030.9,1458.4 C2031.2,1465.1 2030.9,1466.8 2031.1,1480.0 C2031.3,1493.2 2031.7,1524.3 2032.0,1540.8 C2032.3,1557.3 2032.7,1569.7 2032.9,1583.2 C2033.2,1596.8 2033.4,1611.5 2033.9,1625.6 C2034.3,1639.8 2035.4,1663.6 2035.9,1671.7 C2036.4,1679.8 2036.7,1675.7 2036.8,1676.5 C2037.0,1675.7 2037.4,1678.7 2037.9,1671.7 C2038.4,1664.7 2039.4,1645.7 2040.0,1633.0 C2040.5,1620.3 2040.9,1605.7 2041.2,1592.4 C2041.5,1579.2 2041.4,1566.9 2041.8,1550.0 C2042.2,1533.2 2043.5,1502.5 2044.0,1487.4 C2044.5,1472.3 2044.2,1467.4 2044.7,1455.7 C2045.2,1444.0 2046.3,1427.5 2047.1,1414.2 C2048.0,1400.9 2048.9,1384.4 2050.3,1372.7 C2051.7,1361.1 2053.6,1349.2 2055.8,1341.4 C2058.0,1333.6 2061.2,1329.6 2064.1,1323.9 C2067.1,1318.1 2070.3,1310.0 2074.2,1305.4 C2078.2,1300.9 2083.8,1297.8 2089.0,1295.3 C2094.1,1292.8 2100.9,1292.3 2106.5,1289.8 C2112.1,1287.3 2118.4,1282.1 2124.0,1279.6 C2129.6,1277.1 2139.7,1274.7 2141.5,1274.1 C2143.4,1273.5 2135.1,1276.0 2135.5,1275.8 C2135.9,1275.6 2141.6,1273.2 2144.0,1272.6 C2146.4,1272.0 2148.7,1271.6 2150.5,1272.0 C2152.3,1272.4 2154.1,1273.3 2155.5,1275.0 C2156.9,1276.7 2158.1,1278.6 2159.5,1282.5 C2160.9,1286.4 2162.3,1293.4 2164.0,1299.5 C2165.7,1305.6 2168.5,1313.5 2170.0,1320.5 C2171.5,1327.5 2172.4,1336.2 2173.6,1343.0 C2174.8,1349.8 2176.4,1356.4 2177.7,1362.9 C2179.0,1369.4 2180.1,1377.3 2181.5,1383.8 C2182.9,1390.3 2185.1,1398.3 2186.6,1403.5 C2188.1,1408.7 2189.2,1413.2 2190.6,1416.5 C2192.0,1419.8 2193.5,1422.0 2195.5,1424.3 C2197.5,1426.6 2200.3,1429.3 2203.1,1430.7 C2205.9,1432.1 2210.0,1433.1 2213.2,1433.2 C2216.4,1433.3 2220.2,1432.5 2223.4,1431.6 C2226.6,1430.7 2229.0,1429.7 2233.5,1427.6 C2238.0,1425.5 2247.1,1420.6 2251.3,1418.7 C2255.5,1416.8 2258.2,1416.0 2259.5,1415.5" stroke="#fd9a3a" stroke-dasharray="20 22"/>
</g>
<rect x="1401.6" y="1245.5" width="857.9000000000001" height="629.2" fill="none" stroke="#3a3a3a" stroke-width="3.4"/>
<path d="M1687.1,1874.7 v-10.5 M1687.1,1245.5 v10.5" stroke="#3a3a3a" stroke-width="3"/>
<path d="M1973.6,1874.7 v-10.5 M1973.6,1245.5 v10.5" stroke="#3a3a3a" stroke-width="3"/>
<path d="M1401.6,1560.1 h10.5 M2259.5,1560.1 h-10.5" stroke="#3a3a3a" stroke-width="3"/>
<text x="1354.8" y="1950.3" font-size="63.5" fill="#262626">400</text>
<text x="1639.1" y="1950.3" font-size="63.5" fill="#262626">500</text>
<text x="1926.1" y="1950.3" font-size="63.5" fill="#262626">600</text>
<text x="2211.3" y="1950.3" font-size="63.5" fill="#262626">700</text>
<text x="1383.0" y="1268.3" font-size="63.5" fill="#262626" text-anchor="end">1</text>
<text x="1383.0" y="1582.9" font-size="63.5" fill="#262626" text-anchor="end">0.5</text>
<text x="1383.0" y="1897.3" font-size="63.5" fill="#262626" text-anchor="end">0</text>
<text x="1616.4" y="2030.0" font-size="69.0" fill="#262626">Wavelenth(nm)</text>
<text transform="translate(1281.2,1796.4) rotate(-90)" font-size="69.0" fill="#262626">Reflectance(a.u.)</text>
<rect x="1420.5" y="1266.6" width="412.0" height="176.20000000000005" fill="#fff" stroke="#3a3a3a" stroke-width="3"/>
<line x1="1437.2" y1="1304.4" x2="1519.3" y2="1304.4" stroke="#ffc20e" stroke-width="4"/>
<line x1="1437.2" y1="1390.5" x2="1519.3" y2="1390.5" stroke="#fd9a3a" stroke-width="4" stroke-dasharray="21 20.5"/>
<text x="1524.3" y="1328.6" font-size="64" fill="#000">none</text>
<text fill="#000"><tspan x="1525.8" y="1399.6" font-size="64">Si</tspan><tspan x="1579.1" y="1429.6" font-size="50">3</tspan><tspan x="1604.1" y="1399.6" font-size="64">N</tspan><tspan x="1650.3" y="1429.6" font-size="50">4</tspan><tspan x="1675.3" y="1399.6" font-size="64"> layer</tspan></text>
</g>
<g id="panelE">
<line x1="1065.1" y1="2831.5" x2="1065.1" y2="2170.2" stroke="#dedede" stroke-width="3"/>
<line x1="909.5" y1="2675.9" x2="1570.8" y2="2675.9" stroke="#dedede" stroke-width="3"/>
<line x1="1220.7" y1="2831.5" x2="1220.7" y2="2170.2" stroke="#dedede" stroke-width="3"/>
<line x1="909.5" y1="2520.3" x2="1570.8" y2="2520.3" stroke="#dedede" stroke-width="3"/>
<line x1="1376.3" y1="2831.5" x2="1376.3" y2="2170.2" stroke="#dedede" stroke-width="3"/>
<line x1="909.5" y1="2364.7" x2="1570.8" y2="2364.7" stroke="#dedede" stroke-width="3"/>
<line x1="1531.9" y1="2831.5" x2="1531.9" y2="2170.2" stroke="#dedede" stroke-width="3"/>
<line x1="909.5" y1="2209.1" x2="1570.8" y2="2209.1" stroke="#dedede" stroke-width="3"/>
<defs><linearGradient id="g0" gradientUnits="userSpaceOnUse" x1="965.5" x2="970.9" y1="0" y2="0"><stop offset="0.2759" stop-color="#009f00"/><stop offset="0.7241" stop-color="#00a000"/></linearGradient><linearGradient id="g1" gradientUnits="userSpaceOnUse" x1="961.4" x2="984.1" y1="0" y2="0"><stop offset="0.0663" stop-color="#009d00"/><stop offset="0.9337" stop-color="#00a600"/></linearGradient><linearGradient id="g2" gradientUnits="userSpaceOnUse" x1="951.7" x2="1005.5" y1="0" y2="0"><stop offset="0.0279" stop-color="#009a00"/><stop offset="0.9721" stop-color="#00af00"/></linearGradient><linearGradient id="g3" gradientUnits="userSpaceOnUse" x1="941.9" x2="1017.5" y1="0" y2="0"><stop offset="0.0199" stop-color="#009700"/><stop offset="0.9801" stop-color="#00b500"/></linearGradient><linearGradient id="g4" gradientUnits="userSpaceOnUse" x1="937.1" x2="1029.4" y1="0" y2="0"><stop offset="0.0162" stop-color="#009605"/><stop offset="0.9838" stop-color="#00ba00"/></linearGradient><linearGradient id="g5" gradientUnits="userSpaceOnUse" x1="934.7" x2="1039.2" y1="0" y2="0"><stop offset="0.0144" stop-color="#009414"/><stop offset="0.1698" stop-color="#009d00"/><stop offset="0.9856" stop-color="#00bf00"/></linearGradient><linearGradient id="g6" gradientUnits="userSpaceOnUse" x1="932.3" x2="1048.6" y1="0" y2="0"><stop offset="0.0129" stop-color="#00921b"/><stop offset="0.1521" stop-color="#009d0e"/><stop offset="0.2564" stop-color="#00a300"/><stop offset="0.9871" stop-color="#00c400"/></linearGradient><linearGradient id="g7" gradientUnits="userSpaceOnUse" x1="929.8" x2="1058.0" y1="0" y2="0"><stop offset="0.0117" stop-color="#009021"/><stop offset="0.2007" stop-color="#00a011"/><stop offset="0.2637" stop-color="#00a500"/><stop offset="0.9883" stop-color="#00c800"/></linearGradient><linearGradient id="g8" gradientUnits="userSpaceOnUse" x1="927.4" x2="1066.5" y1="0" y2="0"><stop offset="0.0108" stop-color="#008e25"/><stop offset="0.2698" stop-color="#00a610"/><stop offset="0.3273" stop-color="#00aa00"/><stop offset="0.9892" stop-color="#00cc00"/></linearGradient><linearGradient id="g9" gradientUnits="userSpaceOnUse" x1="925.0" x2="1074.5" y1="0" y2="0"><stop offset="0.0100" stop-color="#008c28"/><stop offset="0.2822" stop-color="#00a718"/><stop offset="0.3639" stop-color="#00ae00"/><stop offset="0.9900" stop-color="#00d000"/></linearGradient><linearGradient id="g10" gradientUnits="userSpaceOnUse" x1="922.6" x2="1082.6" y1="0" y2="0"><stop offset="0.0094" stop-color="#008a2b"/><stop offset="0.3113" stop-color="#00aa1b"/><stop offset="0.4119" stop-color="#00b300"/><stop offset="0.9906" stop-color="#00d400"/></linearGradient><linearGradient id="g11" gradientUnits="userSpaceOnUse" x1="920.1" x2="1090.5" y1="0" y2="0"><stop offset="0.0088" stop-color="#00872d"/><stop offset="0.3203" stop-color="#00ab21"/><stop offset="0.4161" stop-color="#00b50a"/><stop offset="0.4641" stop-color="#00b800"/><stop offset="0.9912" stop-color="#00d800"/></linearGradient><linearGradient id="g12" gradientUnits="userSpaceOnUse" x1="918.9" x2="1097.8" y1="0" y2="0"><stop offset="0.0084" stop-color="#00862f"/><stop offset="0.3285" stop-color="#00ad25"/><stop offset="0.4428" stop-color="#00b80c"/><stop offset="0.4657" stop-color="#00ba00"/><stop offset="0.9916" stop-color="#00db00"/></linearGradient><linearGradient id="g13" gradientUnits="userSpaceOnUse" x1="918.3" x2="1105.0" y1="0" y2="0"><stop offset="0.0080" stop-color="#008531"/><stop offset="0.3360" stop-color="#00af29"/><stop offset="0.4453" stop-color="#00ba17"/><stop offset="0.4891" stop-color="#00bf00"/><stop offset="0.9920" stop-color="#00de00"/></linearGradient><linearGradient id="g14" gradientUnits="userSpaceOnUse" x1="917.6" x2="1112.2" y1="0" y2="0"><stop offset="0.0077" stop-color="#008432"/><stop offset="0.3429" stop-color="#00b12d"/><stop offset="0.4686" stop-color="#00be18"/><stop offset="0.5105" stop-color="#00c300"/><stop offset="0.9923" stop-color="#00e200"/></linearGradient><linearGradient id="g15" gradientUnits="userSpaceOnUse" x1="917.0" x2="1119.3" y1="0" y2="0"><stop offset="0.0074" stop-color="#008334"/><stop offset="0.3291" stop-color="#00b032"/><stop offset="0.4899" stop-color="#00c219"/><stop offset="0.5302" stop-color="#00c700"/><stop offset="0.9926" stop-color="#00e500"/></linearGradient><linearGradient id="g16" gradientUnits="userSpaceOnUse" x1="916.4" x2="1126.0" y1="0" y2="0"><stop offset="0.0072" stop-color="#008236"/><stop offset="0.3550" stop-color="#00b534"/><stop offset="0.5097" stop-color="#00c61b"/><stop offset="0.5483" stop-color="#00ca00"/><stop offset="0.9928" stop-color="#00e800"/></linearGradient><linearGradient id="g17" gradientUnits="userSpaceOnUse" x1="915.8" x2="1132.7" y1="0" y2="0"><stop offset="0.0069" stop-color="#008137"/><stop offset="0.3604" stop-color="#00b737"/><stop offset="0.5093" stop-color="#00c823"/><stop offset="0.5465" stop-color="#00cc15"/><stop offset="0.5651" stop-color="#00ce01"/><stop offset="0.9931" stop-color="#00eb00"/></linearGradient><linearGradient id="g18" gradientUnits="userSpaceOnUse" x1="915.1" x2="1139.5" y1="0" y2="0"><stop offset="0.0067" stop-color="#008038"/><stop offset="0.3296" stop-color="#00b43c"/><stop offset="0.5269" stop-color="#00cc25"/><stop offset="0.5628" stop-color="#00d017"/><stop offset="0.5807" stop-color="#00d206"/><stop offset="0.6884" stop-color="#00da00"/><stop offset="0.9933" stop-color="#00ee00"/></linearGradient><linearGradient id="g19" gradientUnits="userSpaceOnUse" x1="914.5" x2="1146.1" y1="0" y2="0"><stop offset="0.0065" stop-color="#007f3a"/><stop offset="0.3528" stop-color="#00b83f"/><stop offset="0.5433" stop-color="#00d027"/><stop offset="0.5779" stop-color="#00d419"/><stop offset="0.6126" stop-color="#00d700"/><stop offset="0.9935" stop-color="#00f100"/></linearGradient><linearGradient id="g20" gradientUnits="userSpaceOnUse" x1="913.9" x2="1152.5" y1="0" y2="0"><stop offset="0.0063" stop-color="#007e3b"/><stop offset="0.3468" stop-color="#00b942"/><stop offset="0.5340" stop-color="#00d02f"/><stop offset="0.6021" stop-color="#00d815"/><stop offset="0.6192" stop-color="#00da00"/><stop offset="0.9937" stop-color="#00f400"/></linearGradient><linearGradient id="g21" gradientUnits="userSpaceOnUse" x1="913.2" x2="1158.9" y1="0" y2="0"><stop offset="0.0061" stop-color="#007d3c"/><stop offset="0.3354" stop-color="#00b846"/><stop offset="0.5494" stop-color="#00d431"/><stop offset="0.6152" stop-color="#00dc19"/><stop offset="0.6317" stop-color="#00dd03"/><stop offset="0.9939" stop-color="#00f700"/></linearGradient><linearGradient id="g22" gradientUnits="userSpaceOnUse" x1="912.6" x2="1165.4" y1="0" y2="0"><stop offset="0.0059" stop-color="#007c3d"/><stop offset="0.3406" stop-color="#00ba49"/><stop offset="0.5478" stop-color="#00d637"/><stop offset="0.6275" stop-color="#00df1c"/><stop offset="0.6594" stop-color="#00e200"/><stop offset="0.9622" stop-color="#00f800"/><stop offset="0.9781" stop-color="#2bf800"/><stop offset="0.9941" stop-color="#43f800"/></linearGradient><linearGradient id="g23" gradientUnits="userSpaceOnUse" x1="912.0" x2="1171.8" y1="0" y2="0"><stop offset="0.0058" stop-color="#007b3e"/><stop offset="0.3456" stop-color="#00bc4c"/><stop offset="0.5618" stop-color="#00d939"/><stop offset="0.6390" stop-color="#00e31f"/><stop offset="0.6699" stop-color="#00e600"/><stop offset="0.9324" stop-color="#00f900"/><stop offset="0.9479" stop-color="#2cf900"/><stop offset="0.9788" stop-color="#53f800"/><stop offset="0.9942" stop-color="#5ef800"/></linearGradient><linearGradient id="g24" gradientUnits="userSpaceOnUse" x1="911.6" x2="1178.0" y1="0" y2="0"><stop offset="0.0056" stop-color="#007a3f"/><stop offset="0.3251" stop-color="#00ba4f"/><stop offset="0.5532" stop-color="#00da3f"/><stop offset="0.6445" stop-color="#00e525"/><stop offset="0.6597" stop-color="#00e71a"/><stop offset="0.6749" stop-color="#00e900"/><stop offset="0.9031" stop-color="#00f900"/><stop offset="0.9183" stop-color="#2afa00"/><stop offset="0.9487" stop-color="#53f900"/><stop offset="0.9944" stop-color="#71f800"/></linearGradient><linearGradient id="g25" gradientUnits="userSpaceOnUse" x1="911.8" x2="1184.3" y1="0" y2="0"><stop offset="0.0055" stop-color="#007a40"/><stop offset="0.3155" stop-color="#00ba52"/><stop offset="0.5664" stop-color="#00de41"/><stop offset="0.6550" stop-color="#00e927"/><stop offset="0.6698" stop-color="#00ea1d"/><stop offset="0.6845" stop-color="#00ec08"/><stop offset="0.7140" stop-color="#00ee00"/><stop offset="0.8764" stop-color="#00fa00"/><stop offset="0.8912" stop-color="#2afa00"/><stop offset="0.9059" stop-color="#44fa00"/><stop offset="0.9650" stop-color="#72f900"/><stop offset="0.9945" stop-color="#80f800"/></linearGradient><linearGradient id="g26" gradientUnits="userSpaceOnUse" x1="912.0" x2="1190.5" y1="0" y2="0"><stop offset="0.0054" stop-color="#007a41"/><stop offset="0.3109" stop-color="#00ba55"/><stop offset="0.5582" stop-color="#00df47"/><stop offset="0.6600" stop-color="#00eb2c"/><stop offset="0.6891" stop-color="#00ef16"/><stop offset="0.7037" stop-color="#00f000"/><stop offset="0.8491" stop-color="#00fb00"/><stop offset="0.8637" stop-color="#27fb00"/><stop offset="0.8782" stop-color="#43fb00"/><stop offset="0.9364" stop-color="#72f900"/><stop offset="0.9946" stop-color="#8df800"/></linearGradient><linearGradient id="g27" gradientUnits="userSpaceOnUse" x1="912.3" x2="1196.8" y1="0" y2="0"><stop offset="0.0053" stop-color="#007942"/><stop offset="0.3162" stop-color="#00bd58"/><stop offset="0.5565" stop-color="#00e14c"/><stop offset="0.6696" stop-color="#00ef2f"/><stop offset="0.6979" stop-color="#00f21a"/><stop offset="0.7120" stop-color="#00f300"/><stop offset="0.8251" stop-color="#00fc00"/><stop offset="0.8392" stop-color="#29fc00"/><stop offset="0.8534" stop-color="#44fc00"/><stop offset="0.9099" stop-color="#73fa00"/><stop offset="0.9947" stop-color="#99f800"/></linearGradient><linearGradient id="g28" gradientUnits="userSpaceOnUse" x1="912.5" x2="1203.0" y1="0" y2="0"><stop offset="0.0052" stop-color="#007943"/><stop offset="0.2979" stop-color="#00bb5b"/><stop offset="0.5627" stop-color="#00e44f"/><stop offset="0.6742" stop-color="#00f133"/><stop offset="0.7021" stop-color="#00f522"/><stop offset="0.7300" stop-color="#00f700"/><stop offset="0.7997" stop-color="#00fc00"/><stop offset="0.8276" stop-color="#42fc00"/><stop offset="0.8694" stop-color="#6afb00"/><stop offset="0.9809" stop-color="#9ff900"/><stop offset="0.9948" stop-color="#a4f800"/></linearGradient><linearGradient id="g29" gradientUnits="userSpaceOnUse" x1="912.7" x2="1209.1" y1="0" y2="0"><stop offset="0.0051" stop-color="#007944"/><stop offset="0.2763" stop-color="#00b85d"/><stop offset="0.5475" stop-color="#00e455"/><stop offset="0.6831" stop-color="#00f536"/><stop offset="0.7102" stop-color="#00f726"/><stop offset="0.7373" stop-color="#00fa00"/><stop offset="0.7780" stop-color="#00fd00"/><stop offset="0.8051" stop-color="#43fd00"/><stop offset="0.8458" stop-color="#6bfc00"/><stop offset="0.9543" stop-color="#a0f900"/><stop offset="0.9949" stop-color="#aef800"/></linearGradient><linearGradient id="g30" gradientUnits="userSpaceOnUse" x1="912.9" x2="1215.2" y1="0" y2="0"><stop offset="0.0050" stop-color="#007846"/><stop offset="0.2859" stop-color="#00bc60"/><stop offset="0.5401" stop-color="#00e55a"/><stop offset="0.6739" stop-color="#00f640"/><stop offset="0.7274" stop-color="#00fb20"/><stop offset="0.7408" stop-color="#00fd00"/><stop offset="0.7542" stop-color="#00fe00"/><stop offset="0.7810" stop-color="#40fe00"/><stop offset="0.8211" stop-color="#6bfd00"/><stop offset="0.9281" stop-color="#a1fa00"/><stop offset="0.9950" stop-color="#b8f800"/></linearGradient><linearGradient id="g31" gradientUnits="userSpaceOnUse" x1="913.1" x2="1221.3" y1="0" y2="0"><stop offset="0.0049" stop-color="#007847"/><stop offset="0.2785" stop-color="#00bc63"/><stop offset="0.5521" stop-color="#00e95d"/><stop offset="0.6824" stop-color="#00f942"/><stop offset="0.7345" stop-color="#00fe24"/><stop offset="0.7606" stop-color="#42ff00"/><stop offset="0.7997" stop-color="#6cfe00"/><stop offset="0.9039" stop-color="#a3fb00"/><stop offset="0.9951" stop-color="#c2f900"/></linearGradient><linearGradient id="g32" gradientUnits="userSpaceOnUse" x1="913.4" x2="1227.5" y1="0" y2="0"><stop offset="0.0048" stop-color="#007848"/><stop offset="0.2749" stop-color="#00bc66"/><stop offset="0.5322" stop-color="#00e863"/><stop offset="0.6865" stop-color="#00fb46"/><stop offset="0.7122" stop-color="#00fe3c"/><stop offset="0.7251" stop-color="#0cff35"/><stop offset="0.7380" stop-color="#3eff2b"/><stop offset="0.7508" stop-color="#52ff1b"/><stop offset="0.7637" stop-color="#60ff00"/><stop offset="0.8537" stop-color="#99fc00"/><stop offset="0.9952" stop-color="#cbf900"/></linearGradient><linearGradient id="g33" gradientUnits="userSpaceOnUse" x1="913.6" x2="1233.6" y1="0" y2="0"><stop offset="0.0047" stop-color="#007749"/><stop offset="0.2555" stop-color="#00ba67"/><stop offset="0.5313" stop-color="#00ea67"/><stop offset="0.6818" stop-color="#00fd4d"/><stop offset="0.6944" stop-color="#00fe49"/><stop offset="0.7069" stop-color="#17ff44"/><stop offset="0.7194" stop-color="#40ff3e"/><stop offset="0.7571" stop-color="#6dff20"/><stop offset="0.7696" stop-color="#76ff00"/><stop offset="0.8825" stop-color="#affc00"/><stop offset="0.9953" stop-color="#d4f900"/></linearGradient><linearGradient id="g34" gradientUnits="userSpaceOnUse" x1="913.8" x2="1239.6" y1="0" y2="0"><stop offset="0.0046" stop-color="#00774a"/><stop offset="0.2647" stop-color="#00bd6b"/><stop offset="0.5372" stop-color="#00ed6a"/><stop offset="0.6858" stop-color="#00ff51"/><stop offset="0.6982" stop-color="#3bff4d"/><stop offset="0.7229" stop-color="#5fff42"/><stop offset="0.7601" stop-color="#7eff28"/><stop offset="0.7849" stop-color="#8eff00"/><stop offset="0.9582" stop-color="#d2fa00"/><stop offset="0.9954" stop-color="#ddf900"/></linearGradient><linearGradient id="g35" gradientUnits="userSpaceOnUse" x1="914.0" x2="1245.7" y1="0" y2="0"><stop offset="0.0045" stop-color="#00774b"/><stop offset="0.2462" stop-color="#00ba6c"/><stop offset="0.5121" stop-color="#00eb70"/><stop offset="0.6571" stop-color="#00fe5d"/><stop offset="0.6692" stop-color="#06ff5b"/><stop offset="0.6813" stop-color="#3eff57"/><stop offset="0.7054" stop-color="#61ff4f"/><stop offset="0.7659" stop-color="#8fff2c"/><stop offset="0.7780" stop-color="#96ff1c"/><stop offset="0.7900" stop-color="#9cff00"/><stop offset="0.9834" stop-color="#e3fa00"/><stop offset="0.9955" stop-color="#e6f900"/></linearGradient><linearGradient id="g36" gradientUnits="userSpaceOnUse" x1="914.3" x2="1251.8" y1="0" y2="0"><stop offset="0.0044" stop-color="#00774c"/><stop offset="0.2433" stop-color="#00bb6f"/><stop offset="0.5179" stop-color="#00ee74"/><stop offset="0.6493" stop-color="#00ff64"/><stop offset="0.6612" stop-color="#38ff61"/><stop offset="0.6851" stop-color="#5fff5a"/><stop offset="0.7567" stop-color="#96ff3b"/><stop offset="0.7806" stop-color="#a2ff25"/><stop offset="0.7926" stop-color="#a8ff07"/><stop offset="0.8284" stop-color="#b8fe00"/><stop offset="0.9956" stop-color="#effa00"/></linearGradient><linearGradient id="g37" gradientUnits="userSpaceOnUse" x1="914.5" x2="1257.9" y1="0" y2="0"><stop offset="0.0044" stop-color="#00764d"/><stop offset="0.2376" stop-color="#00bb72"/><stop offset="0.5175" stop-color="#00f078"/><stop offset="0.6341" stop-color="#00ff6b"/><stop offset="0.6458" stop-color="#3cff68"/><stop offset="0.6691" stop-color="#61ff62"/><stop offset="0.7391" stop-color="#97ff4a"/><stop offset="0.7857" stop-color="#afff29"/><stop offset="0.8090" stop-color="#b9ff00"/><stop offset="0.9956" stop-color="#f8fa00"/></linearGradient><linearGradient id="g38" gradientUnits="userSpaceOnUse" x1="914.7" x2="1263.9" y1="0" y2="0"><stop offset="0.0043" stop-color="#00764e"/><stop offset="0.2349" stop-color="#00bc74"/><stop offset="0.5000" stop-color="#00ef7d"/><stop offset="0.6153" stop-color="#00ff72"/><stop offset="0.6268" stop-color="#35ff70"/><stop offset="0.6499" stop-color="#5eff6b"/><stop offset="0.7075" stop-color="#8fff5b"/><stop offset="0.7767" stop-color="#b5ff3a"/><stop offset="0.7997" stop-color="#bfff21"/><stop offset="0.8113" stop-color="#c4ff00"/><stop offset="0.9842" stop-color="#faf600"/><stop offset="0.9957" stop-color="#faf300"/></linearGradient><linearGradient id="g39" gradientUnits="userSpaceOnUse" x1="915.0" x2="1270.0" y1="0" y2="0"><stop offset="0.0042" stop-color="#00764f"/><stop offset="0.2322" stop-color="#00bc77"/><stop offset="0.4943" stop-color="#00f081"/><stop offset="0.5969" stop-color="#00fe79"/><stop offset="0.6083" stop-color="#2bff77"/><stop offset="0.6197" stop-color="#49ff75"/><stop offset="0.6539" stop-color="#74ff6e"/><stop offset="0.7450" stop-color="#afff51"/><stop offset="0.7906" stop-color="#c4ff36"/><stop offset="0.8020" stop-color="#c9ff2a"/><stop offset="0.8248" stop-color="#d2ff00"/><stop offset="0.9502" stop-color="#fbfa00"/><stop offset="0.9958" stop-color="#faeb00"/></linearGradient><linearGradient id="g40" gradientUnits="userSpaceOnUse" x1="915.8" x2="1276.0" y1="0" y2="0"><stop offset="0.0042" stop-color="#007651"/><stop offset="0.2159" stop-color="#00ba78"/><stop offset="0.4721" stop-color="#00ef86"/><stop offset="0.5836" stop-color="#00fe7f"/><stop offset="0.5947" stop-color="#33ff7d"/><stop offset="0.6059" stop-color="#4eff7b"/><stop offset="0.6504" stop-color="#80ff72"/><stop offset="0.7618" stop-color="#c1ff4e"/><stop offset="0.8064" stop-color="#d4ff2e"/><stop offset="0.8287" stop-color="#ddff00"/><stop offset="0.9290" stop-color="#fcf900"/><stop offset="0.9958" stop-color="#fae300"/></linearGradient><linearGradient id="g41" gradientUnits="userSpaceOnUse" x1="916.5" x2="1282.0" y1="0" y2="0"><stop offset="0.0041" stop-color="#007753"/><stop offset="0.2245" stop-color="#00be7c"/><stop offset="0.4780" stop-color="#00f18a"/><stop offset="0.5661" stop-color="#00fe85"/><stop offset="0.5882" stop-color="#4aff82"/><stop offset="0.6212" stop-color="#75ff7c"/><stop offset="0.7204" stop-color="#b7ff63"/><stop offset="0.7975" stop-color="#daff3e"/><stop offset="0.8196" stop-color="#e3ff26"/><stop offset="0.8306" stop-color="#e7ff00"/><stop offset="0.9077" stop-color="#fdf800"/><stop offset="0.9959" stop-color="#fbdc00"/></linearGradient><linearGradient id="g42" gradientUnits="userSpaceOnUse" x1="917.2" x2="1288.0" y1="0" y2="0"><stop offset="0.0040" stop-color="#007754"/><stop offset="0.2111" stop-color="#00bc7e"/><stop offset="0.4727" stop-color="#00f38e"/><stop offset="0.5491" stop-color="#00fe8b"/><stop offset="0.5600" stop-color="#1bff8a"/><stop offset="0.5709" stop-color="#45ff88"/><stop offset="0.6036" stop-color="#74ff83"/><stop offset="0.6908" stop-color="#b1ff70"/><stop offset="0.7889" stop-color="#dfff4a"/><stop offset="0.8216" stop-color="#ecff2e"/><stop offset="0.8434" stop-color="#f5ff00"/><stop offset="0.9088" stop-color="#fdef00"/><stop offset="0.9960" stop-color="#fbd400"/></linearGradient><linearGradient id="g43" gradientUnits="userSpaceOnUse" x1="917.9" x2="1294.1" y1="0" y2="0"><stop offset="0.0040" stop-color="#007856"/><stop offset="0.2067" stop-color="#00bc81"/><stop offset="0.4627" stop-color="#00f392"/><stop offset="0.5373" stop-color="#00fe90"/><stop offset="0.5587" stop-color="#4aff8d"/><stop offset="0.5907" stop-color="#76ff88"/><stop offset="0.6653" stop-color="#adff7a"/><stop offset="0.7827" stop-color="#e6ff53"/><stop offset="0.8253" stop-color="#f7ff32"/><stop offset="0.8360" stop-color="#fbff21"/><stop offset="0.8467" stop-color="#ffff00"/><stop offset="0.9960" stop-color="#fbce00"/></linearGradient><linearGradient id="g44" gradientUnits="userSpaceOnUse" x1="918.7" x2="1300.1" y1="0" y2="0"><stop offset="0.0039" stop-color="#007857"/><stop offset="0.1939" stop-color="#00ba82"/><stop offset="0.4472" stop-color="#00f297"/><stop offset="0.5211" stop-color="#00fe95"/><stop offset="0.5317" stop-color="#1aff95"/><stop offset="0.5422" stop-color="#45ff93"/><stop offset="0.5739" stop-color="#75ff8e"/><stop offset="0.6583" stop-color="#b3ff7f"/><stop offset="0.7850" stop-color="#f0ff57"/><stop offset="0.8272" stop-color="#fffd38"/><stop offset="0.8377" stop-color="#fff92a"/><stop offset="0.8483" stop-color="#fff508"/><stop offset="0.8694" stop-color="#feed00"/><stop offset="0.9961" stop-color="#fbc700"/></linearGradient><linearGradient id="g45" gradientUnits="userSpaceOnUse" x1="919.4" x2="1306.1" y1="0" y2="0"><stop offset="0.0039" stop-color="#007959"/><stop offset="0.1919" stop-color="#00bb85"/><stop offset="0.4530" stop-color="#00f59b"/><stop offset="0.5157" stop-color="#00ff9a"/><stop offset="0.5261" stop-color="#3fff99"/><stop offset="0.5470" stop-color="#66ff96"/><stop offset="0.6097" stop-color="#a0ff8c"/><stop offset="0.7663" stop-color="#f1ff64"/><stop offset="0.8186" stop-color="#fff845"/><stop offset="0.8395" stop-color="#fff02f"/><stop offset="0.8603" stop-color="#ffe900"/><stop offset="0.9961" stop-color="#fbc100"/></linearGradient><linearGradient id="g46" gradientUnits="userSpaceOnUse" x1="920.1" x2="1312.1" y1="0" y2="0"><stop offset="0.0038" stop-color="#00795b"/><stop offset="0.1982" stop-color="#00bf89"/><stop offset="0.4335" stop-color="#00f49f"/><stop offset="0.4949" stop-color="#00fe9f"/><stop offset="0.5051" stop-color="#1aff9f"/><stop offset="0.5153" stop-color="#46ff9d"/><stop offset="0.5460" stop-color="#76ff9a"/><stop offset="0.6279" stop-color="#b6ff8d"/><stop offset="0.7813" stop-color="#fffe62"/><stop offset="0.8427" stop-color="#ffe731"/><stop offset="0.8529" stop-color="#ffe321"/><stop offset="0.8632" stop-color="#ffe000"/><stop offset="0.9962" stop-color="#fcba00"/></linearGradient><linearGradient id="g47" gradientUnits="userSpaceOnUse" x1="920.9" x2="1318.1" y1="0" y2="0"><stop offset="0.0038" stop-color="#007a5d"/><stop offset="0.1962" stop-color="#00c08c"/><stop offset="0.4392" stop-color="#00f7a4"/><stop offset="0.4899" stop-color="#00ffa4"/><stop offset="0.5000" stop-color="#40ffa3"/><stop offset="0.5203" stop-color="#68ffa0"/><stop offset="0.5810" stop-color="#a2ff98"/><stop offset="0.7430" stop-color="#f9ff75"/><stop offset="0.8342" stop-color="#ffe23f"/><stop offset="0.8544" stop-color="#ffdb28"/><stop offset="0.8747" stop-color="#ffd500"/><stop offset="0.9962" stop-color="#fcb400"/></linearGradient><linearGradient id="g48" gradientUnits="userSpaceOnUse" x1="921.6" x2="1324.1" y1="0" y2="0"><stop offset="0.0037" stop-color="#007b5f"/><stop offset="0.2042" stop-color="#00c491"/><stop offset="0.4549" stop-color="#00fba9"/><stop offset="0.4749" stop-color="#00fea9"/><stop offset="0.4850" stop-color="#38ffa8"/><stop offset="0.5050" stop-color="#65ffa6"/><stop offset="0.5652" stop-color="#a1ff9e"/><stop offset="0.7156" stop-color="#f6ff82"/><stop offset="0.7557" stop-color="#fff772"/><stop offset="0.8459" stop-color="#ffd738"/><stop offset="0.8659" stop-color="#ffd11c"/><stop offset="0.8760" stop-color="#ffce00"/><stop offset="0.9963" stop-color="#fcae00"/></linearGradient><linearGradient id="g49" gradientUnits="userSpaceOnUse" x1="922.3" x2="1330.2" y1="0" y2="0"><stop offset="0.0037" stop-color="#007b60"/><stop offset="0.1904" stop-color="#00c292"/><stop offset="0.4263" stop-color="#00f9ad"/><stop offset="0.4656" stop-color="#00ffad"/><stop offset="0.4754" stop-color="#42ffad"/><stop offset="0.4951" stop-color="#69ffaa"/><stop offset="0.5541" stop-color="#a4ffa3"/><stop offset="0.7015" stop-color="#f8ff89"/><stop offset="0.7703" stop-color="#ffe86a"/><stop offset="0.8489" stop-color="#ffce39"/><stop offset="0.8686" stop-color="#ffc921"/><stop offset="0.8784" stop-color="#ffc600"/><stop offset="0.9963" stop-color="#fca800"/></linearGradient><linearGradient id="g50" gradientUnits="userSpaceOnUse" x1="923.1" x2="1336.2" y1="0" y2="0"><stop offset="0.0036" stop-color="#007c62"/><stop offset="0.1886" stop-color="#00c396"/><stop offset="0.4319" stop-color="#00fbb2"/><stop offset="0.4513" stop-color="#00feb2"/><stop offset="0.4611" stop-color="#3affb2"/><stop offset="0.4805" stop-color="#66ffb0"/><stop offset="0.5292" stop-color="#9cffaa"/><stop offset="0.6655" stop-color="#f0ff96"/><stop offset="0.7141" stop-color="#fff786"/><stop offset="0.8504" stop-color="#ffc73b"/><stop offset="0.8698" stop-color="#ffc227"/><stop offset="0.8893" stop-color="#ffbc00"/><stop offset="0.9964" stop-color="#fca200"/></linearGradient><linearGradient id="g51" gradientUnits="userSpaceOnUse" x1="923.8" x2="1342.2" y1="0" y2="0"><stop offset="0.0036" stop-color="#007d64"/><stop offset="0.1771" stop-color="#00c197"/><stop offset="0.4084" stop-color="#00f9b6"/><stop offset="0.4373" stop-color="#00feb7"/><stop offset="0.4470" stop-color="#2effb7"/><stop offset="0.4566" stop-color="#50ffb6"/><stop offset="0.4855" stop-color="#7effb3"/><stop offset="0.5627" stop-color="#bfffaa"/><stop offset="0.6783" stop-color="#fffe97"/><stop offset="0.8518" stop-color="#ffc03d"/><stop offset="0.8807" stop-color="#ffb81c"/><stop offset="0.8904" stop-color="#ffb600"/><stop offset="0.9964" stop-color="#fc9c00"/></linearGradient><linearGradient id="g52" gradientUnits="userSpaceOnUse" x1="924.5" x2="1348.3" y1="0" y2="0"><stop offset="0.0035" stop-color="#007e67"/><stop offset="0.1832" stop-color="#00c59c"/><stop offset="0.4102" stop-color="#00fbbb"/><stop offset="0.4291" stop-color="#00ffbb"/><stop offset="0.4385" stop-color="#3cffbb"/><stop offset="0.4574" stop-color="#68ffb9"/><stop offset="0.5047" stop-color="#9effb5"/><stop offset="0.6277" stop-color="#efffa5"/><stop offset="0.6655" stop-color="#fffb9c"/><stop offset="0.8357" stop-color="#ffbd4a"/><stop offset="0.8830" stop-color="#ffb121"/><stop offset="0.8924" stop-color="#ffaf05"/><stop offset="0.9965" stop-color="#fc9500"/></linearGradient><linearGradient id="g53" gradientUnits="userSpaceOnUse" x1="925.2" x2="1354.3" y1="0" y2="0"><stop offset="0.0035" stop-color="#007f69"/><stop offset="0.1909" stop-color="#00c9a2"/><stop offset="0.4157" stop-color="#00fec0"/><stop offset="0.4251" stop-color="#31ffc0"/><stop offset="0.4344" stop-color="#52ffbf"/><stop offset="0.4625" stop-color="#80ffbd"/><stop offset="0.5281" stop-color="#bcffb6"/><stop offset="0.6405" stop-color="#ffffa7"/><stop offset="0.7904" stop-color="#ffc462"/><stop offset="0.8747" stop-color="#ffad30"/><stop offset="0.8935" stop-color="#ffa815"/><stop offset="0.9028" stop-color="#ffa600"/><stop offset="0.9965" stop-color="#fd8f00"/></linearGradient><linearGradient id="g54" gradientUnits="userSpaceOnUse" x1="926.0" x2="1360.3" y1="0" y2="0"><stop offset="0.0035" stop-color="#007f6b"/><stop offset="0.1705" stop-color="#00c4a1"/><stop offset="0.3840" stop-color="#00fac3"/><stop offset="0.4025" stop-color="#00fec4"/><stop offset="0.4118" stop-color="#1effc5"/><stop offset="0.4211" stop-color="#4cffc4"/><stop offset="0.4490" stop-color="#7effc2"/><stop offset="0.5139" stop-color="#bcffbc"/><stop offset="0.6253" stop-color="#fffdad"/><stop offset="0.7831" stop-color="#ffbf66"/><stop offset="0.8759" stop-color="#ffa633"/><stop offset="0.8945" stop-color="#ffa11d"/><stop offset="0.9037" stop-color="#ff9f00"/><stop offset="0.9965" stop-color="#fd8900"/></linearGradient><linearGradient id="g55" gradientUnits="userSpaceOnUse" x1="926.7" x2="1366.3" y1="0" y2="0"><stop offset="0.0034" stop-color="#00816e"/><stop offset="0.1856" stop-color="#00cba9"/><stop offset="0.3952" stop-color="#00fec9"/><stop offset="0.4043" stop-color="#34ffc9"/><stop offset="0.4134" stop-color="#54ffc9"/><stop offset="0.4499" stop-color="#8effc6"/><stop offset="0.5319" stop-color="#d2ffbf"/><stop offset="0.6139" stop-color="#fffab1"/><stop offset="0.7688" stop-color="#ffbc6d"/><stop offset="0.8781" stop-color="#ff9f34"/><stop offset="0.8964" stop-color="#ff9a21"/><stop offset="0.9146" stop-color="#ff9600"/><stop offset="0.9966" stop-color="#fd8200"/></linearGradient><linearGradient id="g56" gradientUnits="userSpaceOnUse" x1="927.8" x2="1372.3" y1="0" y2="0"><stop offset="0.0034" stop-color="#008271"/><stop offset="0.1659" stop-color="#00c6a8"/><stop offset="0.3826" stop-color="#00fece"/><stop offset="0.4007" stop-color="#4fffcd"/><stop offset="0.4187" stop-color="#74ffcc"/><stop offset="0.4729" stop-color="#b1ffc8"/><stop offset="0.5903" stop-color="#fffdbb"/><stop offset="0.7438" stop-color="#ffbd77"/><stop offset="0.8702" stop-color="#ff9a3c"/><stop offset="0.8973" stop-color="#ff9425"/><stop offset="0.9154" stop-color="#ff8f00"/><stop offset="0.9966" stop-color="#fd7c00"/></linearGradient><linearGradient id="g57" gradientUnits="userSpaceOnUse" x1="928.9" x2="1378.3" y1="0" y2="0"><stop offset="0.0033" stop-color="#008474"/><stop offset="0.1823" stop-color="#00ceb1"/><stop offset="0.3702" stop-color="#00fdd2"/><stop offset="0.3792" stop-color="#07ffd3"/><stop offset="0.3881" stop-color="#4affd2"/><stop offset="0.4150" stop-color="#80ffd1"/><stop offset="0.4776" stop-color="#c0ffcc"/><stop offset="0.5761" stop-color="#fffcc1"/><stop offset="0.7192" stop-color="#ffbe80"/><stop offset="0.8803" stop-color="#ff9138"/><stop offset="0.9072" stop-color="#ff8b1d"/><stop offset="0.9161" stop-color="#ff8802"/><stop offset="0.9967" stop-color="#fd7500"/></linearGradient><linearGradient id="g58" gradientUnits="userSpaceOnUse" x1="930.0" x2="1384.4" y1="0" y2="0"><stop offset="0.0033" stop-color="#008677"/><stop offset="0.1718" stop-color="#00cdb3"/><stop offset="0.3670" stop-color="#00ffd7"/><stop offset="0.3758" stop-color="#43ffd7"/><stop offset="0.3936" stop-color="#70ffd6"/><stop offset="0.4468" stop-color="#b0ffd3"/><stop offset="0.5532" stop-color="#ffffcb"/><stop offset="0.6951" stop-color="#ffbf89"/><stop offset="0.8725" stop-color="#ff8c3f"/><stop offset="0.9080" stop-color="#ff8422"/><stop offset="0.9257" stop-color="#ff7f00"/><stop offset="0.9967" stop-color="#fd6d00"/></linearGradient><linearGradient id="g59" gradientUnits="userSpaceOnUse" x1="931.1" x2="1390.4" y1="0" y2="0"><stop offset="0.0033" stop-color="#00877a"/><stop offset="0.1688" stop-color="#00ceb7"/><stop offset="0.3519" stop-color="#00fedc"/><stop offset="0.3693" stop-color="#50ffdc"/><stop offset="0.3954" stop-color="#84ffdb"/><stop offset="0.4564" stop-color="#c4ffd7"/><stop offset="0.5436" stop-color="#fffbce"/><stop offset="0.6830" stop-color="#ffbc8d"/><stop offset="0.8747" stop-color="#ff853f"/><stop offset="0.9096" stop-color="#ff7c24"/><stop offset="0.9183" stop-color="#ff7a18"/><stop offset="0.9270" stop-color="#ff7800"/><stop offset="0.9967" stop-color="#fd6600"/></linearGradient><linearGradient id="g60" gradientUnits="userSpaceOnUse" x1="932.3" x2="1396.4" y1="0" y2="0"><stop offset="0.0032" stop-color="#00897e"/><stop offset="0.1674" stop-color="#00d0bc"/><stop offset="0.3488" stop-color="#00ffe1"/><stop offset="0.3574" stop-color="#4bffe1"/><stop offset="0.3747" stop-color="#75ffe0"/><stop offset="0.4266" stop-color="#b5ffde"/><stop offset="0.5216" stop-color="#ffffd8"/><stop offset="0.6426" stop-color="#ffc39c"/><stop offset="0.8758" stop-color="#ff7d40"/><stop offset="0.9190" stop-color="#ff721d"/><stop offset="0.9277" stop-color="#ff7008"/><stop offset="0.9449" stop-color="#ff6b00"/><stop offset="0.9968" stop-color="#fd5d00"/></linearGradient><linearGradient id="g61" gradientUnits="userSpaceOnUse" x1="933.4" x2="1402.4" y1="0" y2="0"><stop offset="0.0032" stop-color="#008b81"/><stop offset="0.1574" stop-color="#00cebe"/><stop offset="0.3373" stop-color="#00ffe6"/><stop offset="0.3458" stop-color="#43ffe6"/><stop offset="0.3630" stop-color="#72ffe5"/><stop offset="0.4058" stop-color="#acffe3"/><stop offset="0.5000" stop-color="#fbffdf"/><stop offset="0.6627" stop-color="#ffb493"/><stop offset="0.8769" stop-color="#ff7641"/><stop offset="0.9197" stop-color="#ff6a21"/><stop offset="0.9368" stop-color="#ff6500"/><stop offset="0.9968" stop-color="#fe5300"/></linearGradient><linearGradient id="g62" gradientUnits="userSpaceOnUse" x1="934.5" x2="1408.5" y1="0" y2="0"><stop offset="0.0032" stop-color="#008d85"/><stop offset="0.1645" stop-color="#00d3c5"/><stop offset="0.3259" stop-color="#00feea"/><stop offset="0.3344" stop-color="#3affeb"/><stop offset="0.3429" stop-color="#5bffea"/><stop offset="0.3684" stop-color="#8dffea"/><stop offset="0.4363" stop-color="#d5ffe7"/><stop offset="0.4958" stop-color="#fffce2"/><stop offset="0.6147" stop-color="#ffbea5"/><stop offset="0.8864" stop-color="#ff6b3d"/><stop offset="0.9289" stop-color="#ff5f19"/><stop offset="0.9374" stop-color="#ff5c00"/><stop offset="0.9968" stop-color="#fe4800"/></linearGradient><linearGradient id="g63" gradientUnits="userSpaceOnUse" x1="935.6" x2="1414.5" y1="0" y2="0"><stop offset="0.0031" stop-color="#009089"/><stop offset="0.1716" stop-color="#00d8cd"/><stop offset="0.3147" stop-color="#00feef"/><stop offset="0.3316" stop-color="#56ffef"/><stop offset="0.3568" stop-color="#8bffef"/><stop offset="0.4158" stop-color="#ceffed"/><stop offset="0.4747" stop-color="#feffec"/><stop offset="0.5926" stop-color="#ffbfad"/><stop offset="0.8874" stop-color="#ff623e"/><stop offset="0.9295" stop-color="#ff551e"/><stop offset="0.9463" stop-color="#ff4f00"/><stop offset="0.9969" stop-color="#fe3a00"/></linearGradient><linearGradient id="g64" gradientUnits="userSpaceOnUse" x1="936.7" x2="1420.6" y1="0" y2="0"><stop offset="0.0031" stop-color="#00928e"/><stop offset="0.1605" stop-color="#00d6cf"/><stop offset="0.3095" stop-color="#00fff4"/><stop offset="0.3178" stop-color="#45fff5"/><stop offset="0.3344" stop-color="#75fff4"/><stop offset="0.3758" stop-color="#b2fff4"/><stop offset="0.4586" stop-color="#fdfff2"/><stop offset="0.5828" stop-color="#ffbcaf"/><stop offset="0.8892" stop-color="#ff583f"/><stop offset="0.9306" stop-color="#ff4921"/><stop offset="0.9472" stop-color="#ff4200"/><stop offset="0.9969" stop-color="#fe2300"/></linearGradient><linearGradient id="g65" gradientUnits="userSpaceOnUse" x1="937.8" x2="1426.6" y1="0" y2="0"><stop offset="0.0031" stop-color="#009592"/><stop offset="0.1591" stop-color="#00d8d5"/><stop offset="0.2988" stop-color="#00fef9"/><stop offset="0.3070" stop-color="#3bfffa"/><stop offset="0.3152" stop-color="#5dfffa"/><stop offset="0.3398" stop-color="#91fffa"/><stop offset="0.4055" stop-color="#dcfff9"/><stop offset="0.4466" stop-color="#fffff9"/><stop offset="0.5534" stop-color="#ffc0ba"/><stop offset="0.8984" stop-color="#ff493b"/><stop offset="0.9394" stop-color="#ff3519"/><stop offset="0.9476" stop-color="#ff2f02"/><stop offset="0.9723" stop-color="#fe1600"/><stop offset="0.9805" stop-color="#fe0000"/><stop offset="0.9969" stop-color="#fe0000"/></linearGradient><linearGradient id="g66" gradientUnits="userSpaceOnUse" x1="938.9" x2="1432.6" y1="0" y2="0"><stop offset="0.0030" stop-color="#009797"/><stop offset="0.1660" stop-color="#00dddd"/><stop offset="0.2882" stop-color="#00fefe"/><stop offset="0.3045" stop-color="#58ffff"/><stop offset="0.3289" stop-color="#8fffff"/><stop offset="0.3859" stop-color="#d5ffff"/><stop offset="0.4348" stop-color="#fffdfe"/><stop offset="0.5407" stop-color="#ffbebe"/><stop offset="0.8992" stop-color="#ff393c"/><stop offset="0.9318" stop-color="#ff2026"/><stop offset="0.9481" stop-color="#ff000f"/><stop offset="0.9562" stop-color="#ff0000"/><stop offset="0.9970" stop-color="#fe0000"/></linearGradient><linearGradient id="g67" gradientUnits="userSpaceOnUse" x1="940.1" x2="1438.6" y1="0" y2="0"><stop offset="0.0030" stop-color="#00999b"/><stop offset="0.1727" stop-color="#00dee2"/><stop offset="0.2858" stop-color="#00faff"/><stop offset="0.2939" stop-color="#50faff"/><stop offset="0.3101" stop-color="#7bfaff"/><stop offset="0.3505" stop-color="#b7f9ff"/><stop offset="0.4313" stop-color="#fff5fc"/><stop offset="0.5364" stop-color="#ffb8be"/><stop offset="0.8596" stop-color="#ff3e4f"/><stop offset="0.9000" stop-color="#ff1f3d"/><stop offset="0.9162" stop-color="#ff0034"/><stop offset="0.9485" stop-color="#fe0016"/><stop offset="0.9566" stop-color="#ff0000"/><stop offset="0.9970" stop-color="#fe0000"/></linearGradient><linearGradient id="g68" gradientUnits="userSpaceOnUse" x1="941.2" x2="1444.6" y1="0" y2="0"><stop offset="0.0030" stop-color="#009a9e"/><stop offset="0.1779" stop-color="#00dee6"/><stop offset="0.2734" stop-color="#00f4fe"/><stop offset="0.2813" stop-color="#39f5ff"/><stop offset="0.2893" stop-color="#5cf4ff"/><stop offset="0.3131" stop-color="#8ff4ff"/><stop offset="0.3847" stop-color="#e0f2ff"/><stop offset="0.4245" stop-color="#ffeffd"/><stop offset="0.5278" stop-color="#ffb3c0"/><stop offset="0.8300" stop-color="#ff3d5a"/><stop offset="0.8698" stop-color="#ff1c4c"/><stop offset="0.8777" stop-color="#ff0848"/><stop offset="0.8936" stop-color="#fe0041"/><stop offset="0.9414" stop-color="#fc0023"/><stop offset="0.9652" stop-color="#fe0000"/><stop offset="0.9970" stop-color="#fe0000"/></linearGradient><linearGradient id="g69" gradientUnits="userSpaceOnUse" x1="942.3" x2="1450.7" y1="0" y2="0"><stop offset="0.0030" stop-color="#009ba2"/><stop offset="0.1844" stop-color="#00deea"/><stop offset="0.2633" stop-color="#00effe"/><stop offset="0.2791" stop-color="#54efff"/><stop offset="0.3028" stop-color="#8aefff"/><stop offset="0.3580" stop-color="#cdedff"/><stop offset="0.4211" stop-color="#ffe7fb"/><stop offset="0.5316" stop-color="#ffa9bd"/><stop offset="0.7998" stop-color="#ff3d64"/><stop offset="0.8393" stop-color="#ff1a58"/><stop offset="0.8471" stop-color="#ff0055"/><stop offset="0.9418" stop-color="#f90025"/><stop offset="0.9655" stop-color="#fe0000"/><stop offset="0.9970" stop-color="#fe0000"/></linearGradient><linearGradient id="g70" gradientUnits="userSpaceOnUse" x1="943.4" x2="1456.7" y1="0" y2="0"><stop offset="0.0029" stop-color="#009ca5"/><stop offset="0.1673" stop-color="#00d7e7"/><stop offset="0.2612" stop-color="#00ebff"/><stop offset="0.2691" stop-color="#4ceaff"/><stop offset="0.2847" stop-color="#77eaff"/><stop offset="0.3317" stop-color="#b9e8ff"/><stop offset="0.4100" stop-color="#ffe4ff"/><stop offset="0.5196" stop-color="#ffa6c1"/><stop offset="0.7622" stop-color="#ff4270"/><stop offset="0.8014" stop-color="#ff2464"/><stop offset="0.8092" stop-color="#ff1862"/><stop offset="0.8170" stop-color="#ff005f"/><stop offset="0.9345" stop-color="#f6002c"/><stop offset="0.9579" stop-color="#fa0016"/><stop offset="0.9658" stop-color="#fe0000"/><stop offset="0.9971" stop-color="#fd0000"/></linearGradient><linearGradient id="g71" gradientUnits="userSpaceOnUse" x1="944.8" x2="1462.7" y1="0" y2="0"><stop offset="0.0029" stop-color="#009da9"/><stop offset="0.1738" stop-color="#00d7eb"/><stop offset="0.2514" stop-color="#00e6ff"/><stop offset="0.2592" stop-color="#44e6ff"/><stop offset="0.2747" stop-color="#73e5ff"/><stop offset="0.3214" stop-color="#b5e3ff"/><stop offset="0.4068" stop-color="#ffdcfd"/><stop offset="0.5233" stop-color="#ff9cbd"/><stop offset="0.7408" stop-color="#ff3e76"/><stop offset="0.7719" stop-color="#ff236d"/><stop offset="0.7874" stop-color="#ff0069"/><stop offset="0.9272" stop-color="#f40032"/><stop offset="0.9583" stop-color="#f8001a"/><stop offset="0.9738" stop-color="#fe0000"/><stop offset="0.9971" stop-color="#fd0000"/></linearGradient><linearGradient id="g72" gradientUnits="userSpaceOnUse" x1="946.2" x2="1468.7" y1="0" y2="0"><stop offset="0.0029" stop-color="#009ead"/><stop offset="0.1801" stop-color="#00d6ef"/><stop offset="0.2418" stop-color="#00e1fe"/><stop offset="0.2495" stop-color="#3ce1ff"/><stop offset="0.2572" stop-color="#5be0ff"/><stop offset="0.2803" stop-color="#8bdfff"/><stop offset="0.3420" stop-color="#d1dbff"/><stop offset="0.4037" stop-color="#ffd4fb"/><stop offset="0.5347" stop-color="#ff8eb7"/><stop offset="0.7120" stop-color="#ff3e7e"/><stop offset="0.7428" stop-color="#ff2176"/><stop offset="0.7582" stop-color="#ff0071"/><stop offset="0.8892" stop-color="#f10043"/><stop offset="0.9586" stop-color="#f7001d"/><stop offset="0.9740" stop-color="#fe0000"/><stop offset="0.9971" stop-color="#fd0000"/></linearGradient><linearGradient id="g73" gradientUnits="userSpaceOnUse" x1="947.7" x2="1474.8" y1="0" y2="0"><stop offset="0.0028" stop-color="#009eb0"/><stop offset="0.1774" stop-color="#00d3f1"/><stop offset="0.2306" stop-color="#00dbfe"/><stop offset="0.2381" stop-color="#21dcff"/><stop offset="0.2457" stop-color="#4fdcff"/><stop offset="0.2609" stop-color="#76dbff"/><stop offset="0.3065" stop-color="#b5d8ff"/><stop offset="0.3899" stop-color="#fdd1ff"/><stop offset="0.5190" stop-color="#ff8cbc"/><stop offset="0.6860" stop-color="#ff3c86"/><stop offset="0.7163" stop-color="#ff1c7d"/><stop offset="0.7239" stop-color="#ff027b"/><stop offset="0.8605" stop-color="#ee004c"/><stop offset="0.9516" stop-color="#f60026"/><stop offset="0.9668" stop-color="#f90016"/><stop offset="0.9744" stop-color="#fc0004"/><stop offset="0.9972" stop-color="#fd0000"/></linearGradient><linearGradient id="g74" gradientUnits="userSpaceOnUse" x1="949.2" x2="1480.8" y1="0" y2="0"><stop offset="0.0028" stop-color="#009fb4"/><stop offset="0.1761" stop-color="#00d0f3"/><stop offset="0.2288" stop-color="#00d7ff"/><stop offset="0.2363" stop-color="#49d7ff"/><stop offset="0.2514" stop-color="#73d6ff"/><stop offset="0.2966" stop-color="#b2d3ff"/><stop offset="0.3870" stop-color="#ffcaff"/><stop offset="0.5075" stop-color="#ff88bf"/><stop offset="0.6582" stop-color="#ff3c8d"/><stop offset="0.6883" stop-color="#ff1a85"/><stop offset="0.6959" stop-color="#ff0082"/><stop offset="0.8164" stop-color="#ec0058"/><stop offset="0.9444" stop-color="#f5002c"/><stop offset="0.9670" stop-color="#f8001a"/><stop offset="0.9821" stop-color="#fd0000"/><stop offset="0.9972" stop-color="#fd0000"/></linearGradient><linearGradient id="g75" gradientUnits="userSpaceOnUse" x1="950.7" x2="1472.0" y1="0" y2="0"><stop offset="0.0029" stop-color="#009fb7"/><stop offset="0.1879" stop-color="#00cef6"/><stop offset="0.2264" stop-color="#00d3ff"/><stop offset="0.2341" stop-color="#45d2ff"/><stop offset="0.2495" stop-color="#70d1ff"/><stop offset="0.2880" stop-color="#a7ceff"/><stop offset="0.3882" stop-color="#fcc4ff"/><stop offset="0.5270" stop-color="#ff7cbc"/><stop offset="0.6503" stop-color="#ff3b94"/><stop offset="0.6734" stop-color="#ff238e"/><stop offset="0.6888" stop-color="#ff0089"/><stop offset="0.8044" stop-color="#e90061"/><stop offset="0.9663" stop-color="#f40030"/><stop offset="0.9971" stop-color="#f8001a"/></linearGradient><linearGradient id="g76" gradientUnits="userSpaceOnUse" x1="952.2" x2="1459.0" y1="0" y2="0"><stop offset="0.0030" stop-color="#009fbb"/><stop offset="0.1779" stop-color="#00c8f4"/><stop offset="0.2256" stop-color="#00ceff"/><stop offset="0.2336" stop-color="#40ceff"/><stop offset="0.2495" stop-color="#6dccff"/><stop offset="0.2893" stop-color="#a5c9ff"/><stop offset="0.3926" stop-color="#f9bdff"/><stop offset="0.4881" stop-color="#ff8dd1"/><stop offset="0.6392" stop-color="#ff409d"/><stop offset="0.6710" stop-color="#ff1f95"/><stop offset="0.6789" stop-color="#ff0692"/><stop offset="0.7267" stop-color="#f3007f"/><stop offset="0.8221" stop-color="#e70063"/><stop offset="0.9970" stop-color="#f40034"/></linearGradient><linearGradient id="g77" gradientUnits="userSpaceOnUse" x1="953.7" x2="1446.1" y1="0" y2="0"><stop offset="0.0030" stop-color="#009fbe"/><stop offset="0.1986" stop-color="#00c7f9"/><stop offset="0.2230" stop-color="#00c9fe"/><stop offset="0.2312" stop-color="#30c9ff"/><stop offset="0.2393" stop-color="#52c8ff"/><stop offset="0.2637" stop-color="#82c6ff"/><stop offset="0.3289" stop-color="#c5c0ff"/><stop offset="0.4104" stop-color="#ffb5ff"/><stop offset="0.5489" stop-color="#ff6fbf"/><stop offset="0.6466" stop-color="#ff36a1"/><stop offset="0.6629" stop-color="#ff249d"/><stop offset="0.6792" stop-color="#ff0098"/><stop offset="0.7851" stop-color="#e60071"/><stop offset="0.9970" stop-color="#f20042"/></linearGradient><linearGradient id="g78" gradientUnits="userSpaceOnUse" x1="955.1" x2="1433.2" y1="0" y2="0"><stop offset="0.0031" stop-color="#009fc1"/><stop offset="0.2053" stop-color="#00c3fb"/><stop offset="0.2221" stop-color="#00c4fe"/><stop offset="0.2389" stop-color="#4fc4ff"/><stop offset="0.2642" stop-color="#80c1ff"/><stop offset="0.3316" stop-color="#c3baff"/><stop offset="0.4242" stop-color="#ffacfd"/><stop offset="0.5674" stop-color="#ff64bf"/><stop offset="0.6432" stop-color="#ff35a8"/><stop offset="0.6600" stop-color="#ff20a4"/><stop offset="0.6684" stop-color="#ff05a1"/><stop offset="0.7863" stop-color="#e30075"/><stop offset="0.9969" stop-color="#f0004d"/></linearGradient><linearGradient id="g79" gradientUnits="userSpaceOnUse" x1="956.6" x2="1420.3" y1="0" y2="0"><stop offset="0.0032" stop-color="#009fc4"/><stop offset="0.2106" stop-color="#00bffc"/><stop offset="0.2279" stop-color="#00c0ff"/><stop offset="0.2365" stop-color="#44bfff"/><stop offset="0.2538" stop-color="#6dbeff"/><stop offset="0.3056" stop-color="#a9b8ff"/><stop offset="0.4266" stop-color="#fca7ff"/><stop offset="0.5994" stop-color="#ff50bb"/><stop offset="0.6512" stop-color="#ff25ac"/><stop offset="0.6685" stop-color="#fe00a7"/><stop offset="0.7721" stop-color="#e2007d"/><stop offset="0.9968" stop-color="#ee0056"/></linearGradient><linearGradient id="g80" gradientUnits="userSpaceOnUse" x1="958.1" x2="1407.3" y1="0" y2="0"><stop offset="0.0033" stop-color="#009ec7"/><stop offset="0.2181" stop-color="#00bbfd"/><stop offset="0.2271" stop-color="#00bbff"/><stop offset="0.2360" stop-color="#40bbff"/><stop offset="0.2539" stop-color="#6ab9ff"/><stop offset="0.2987" stop-color="#a0b4ff"/><stop offset="0.4329" stop-color="#faa0ff"/><stop offset="0.6119" stop-color="#ff45bd"/><stop offset="0.6477" stop-color="#ff21b3"/><stop offset="0.6566" stop-color="#ff02b1"/><stop offset="0.7640" stop-color="#e00083"/><stop offset="0.9967" stop-color="#ed005e"/></linearGradient><linearGradient id="g81" gradientUnits="userSpaceOnUse" x1="959.6" x2="1394.4" y1="0" y2="0"><stop offset="0.0034" stop-color="#009dca"/><stop offset="0.2169" stop-color="#00b6fd"/><stop offset="0.2262" stop-color="#00b6ff"/><stop offset="0.2355" stop-color="#3bb6ff"/><stop offset="0.2540" stop-color="#68b4ff"/><stop offset="0.3005" stop-color="#9dafff"/><stop offset="0.4118" stop-color="#e89fff"/><stop offset="0.4675" stop-color="#ff8ff8"/><stop offset="0.6160" stop-color="#ff3dc2"/><stop offset="0.6439" stop-color="#ff1bba"/><stop offset="0.6531" stop-color="#ff00b7"/><stop offset="0.7552" stop-color="#de0089"/><stop offset="0.9966" stop-color="#ec0065"/></linearGradient><linearGradient id="g82" gradientUnits="userSpaceOnUse" x1="961.1" x2="1381.5" y1="0" y2="0"><stop offset="0.0036" stop-color="#009ccd"/><stop offset="0.2231" stop-color="#00b2fe"/><stop offset="0.2422" stop-color="#4db0ff"/><stop offset="0.2709" stop-color="#7cadff"/><stop offset="0.3473" stop-color="#bda4ff"/><stop offset="0.4714" stop-color="#ff8bfd"/><stop offset="0.6050" stop-color="#ff41cb"/><stop offset="0.6337" stop-color="#ff21c3"/><stop offset="0.6432" stop-color="#ff00c0"/><stop offset="0.7482" stop-color="#db008f"/><stop offset="0.9964" stop-color="#eb006c"/></linearGradient><linearGradient id="g83" gradientUnits="userSpaceOnUse" x1="962.8" x2="1368.6" y1="0" y2="0"><stop offset="0.0037" stop-color="#009bd0"/><stop offset="0.2221" stop-color="#00adfe"/><stop offset="0.2419" stop-color="#4bacff"/><stop offset="0.2717" stop-color="#7ba8ff"/><stop offset="0.3511" stop-color="#bb9eff"/><stop offset="0.4801" stop-color="#ff84ff"/><stop offset="0.5993" stop-color="#ff3fd3"/><stop offset="0.6290" stop-color="#ff1bca"/><stop offset="0.6390" stop-color="#ff00c7"/><stop offset="0.7283" stop-color="#db0098"/><stop offset="0.8772" stop-color="#e00081"/><stop offset="0.9963" stop-color="#ea0073"/></linearGradient><linearGradient id="g84" gradientUnits="userSpaceOnUse" x1="964.8" x2="1355.7" y1="0" y2="0"><stop offset="0.0038" stop-color="#009ad3"/><stop offset="0.2209" stop-color="#00a8fe"/><stop offset="0.2416" stop-color="#4aa7ff"/><stop offset="0.2726" stop-color="#7aa3ff"/><stop offset="0.3553" stop-color="#ba98ff"/><stop offset="0.5000" stop-color="#ff77fc"/><stop offset="0.5930" stop-color="#ff3edb"/><stop offset="0.6137" stop-color="#ff27d5"/><stop offset="0.6344" stop-color="#fd00ce"/><stop offset="0.7171" stop-color="#d9009e"/><stop offset="0.8411" stop-color="#dc0089"/><stop offset="0.9962" stop-color="#ea0079"/></linearGradient><linearGradient id="g85" gradientUnits="userSpaceOnUse" x1="966.8" x2="1342.7" y1="0" y2="0"><stop offset="0.0040" stop-color="#0098d5"/><stop offset="0.2280" stop-color="#00a3ff"/><stop offset="0.2387" stop-color="#42a2ff"/><stop offset="0.2600" stop-color="#69a0ff"/><stop offset="0.3240" stop-color="#a297ff"/><stop offset="0.4733" stop-color="#f079ff"/><stop offset="0.5267" stop-color="#ff64f8"/><stop offset="0.5907" stop-color="#ff38e2"/><stop offset="0.6120" stop-color="#ff19db"/><stop offset="0.6227" stop-color="#fe00d8"/><stop offset="0.6973" stop-color="#d900a7"/><stop offset="0.7933" stop-color="#d60093"/><stop offset="0.9960" stop-color="#e90080"/></linearGradient><linearGradient id="g86" gradientUnits="userSpaceOnUse" x1="968.7" x2="1329.8" y1="0" y2="0"><stop offset="0.0042" stop-color="#0096d8"/><stop offset="0.2270" stop-color="#009eff"/><stop offset="0.2381" stop-color="#419dff"/><stop offset="0.2604" stop-color="#689aff"/><stop offset="0.3273" stop-color="#a191ff"/><stop offset="0.4944" stop-color="#f36cff"/><stop offset="0.5501" stop-color="#ff51f6"/><stop offset="0.5947" stop-color="#ff27e7"/><stop offset="0.6059" stop-color="#ff07e4"/><stop offset="0.6393" stop-color="#ee00cc"/><stop offset="0.6950" stop-color="#d400a9"/><stop offset="0.8064" stop-color="#d60096"/><stop offset="0.9958" stop-color="#e90086"/></linearGradient><linearGradient id="g87" gradientUnits="userSpaceOnUse" x1="970.7" x2="1316.9" y1="0" y2="0"><stop offset="0.0043" stop-color="#0094db"/><stop offset="0.2259" stop-color="#0099ff"/><stop offset="0.2376" stop-color="#4098ff"/><stop offset="0.2609" stop-color="#6795ff"/><stop offset="0.3309" stop-color="#a08bff"/><stop offset="0.5058" stop-color="#f161ff"/><stop offset="0.5641" stop-color="#ff3ef8"/><stop offset="0.5875" stop-color="#ff21f0"/><stop offset="0.5991" stop-color="#ff00ec"/><stop offset="0.6691" stop-color="#d500b5"/><stop offset="0.7391" stop-color="#ce00a1"/><stop offset="0.9957" stop-color="#e9008c"/></linearGradient><linearGradient id="g88" gradientUnits="userSpaceOnUse" x1="972.7" x2="1304.0" y1="0" y2="0"><stop offset="0.0045" stop-color="#0092dd"/><stop offset="0.2221" stop-color="#0094ff"/><stop offset="0.2341" stop-color="#3893ff"/><stop offset="0.2583" stop-color="#6290ff"/><stop offset="0.3308" stop-color="#9c85ff"/><stop offset="0.5000" stop-color="#e95bff"/><stop offset="0.5604" stop-color="#fe37ff"/><stop offset="0.5725" stop-color="#ff27fc"/><stop offset="0.5846" stop-color="#ff00f8"/><stop offset="0.6571" stop-color="#d100ba"/><stop offset="0.7417" stop-color="#cc00a5"/><stop offset="0.9955" stop-color="#e90093"/></linearGradient><linearGradient id="g89" gradientUnits="userSpaceOnUse" x1="974.7" x2="1291.1" y1="0" y2="0"><stop offset="0.0047" stop-color="#008fe0"/><stop offset="0.2206" stop-color="#008fff"/><stop offset="0.2333" stop-color="#368eff"/><stop offset="0.2587" stop-color="#618aff"/><stop offset="0.3222" stop-color="#9481ff"/><stop offset="0.4873" stop-color="#de58ff"/><stop offset="0.5508" stop-color="#f431ff"/><stop offset="0.5635" stop-color="#f81eff"/><stop offset="0.5762" stop-color="#fb00fe"/><stop offset="0.6397" stop-color="#cf00c1"/><stop offset="0.7032" stop-color="#c700ad"/><stop offset="0.9953" stop-color="#e9009a"/></linearGradient><linearGradient id="g90" gradientUnits="userSpaceOnUse" x1="976.7" x2="1278.1" y1="0" y2="0"><stop offset="0.0050" stop-color="#008ce2"/><stop offset="0.2190" stop-color="#0089fe"/><stop offset="0.2324" stop-color="#3588ff"/><stop offset="0.2592" stop-color="#6084ff"/><stop offset="0.3261" stop-color="#937aff"/><stop offset="0.4732" stop-color="#d355ff"/><stop offset="0.5268" stop-color="#e638ff"/><stop offset="0.5401" stop-color="#ea2bff"/><stop offset="0.5535" stop-color="#ee0fff"/><stop offset="0.5669" stop-color="#ef00fb"/><stop offset="0.6338" stop-color="#c700c1"/><stop offset="0.7007" stop-color="#c500b1"/><stop offset="0.9816" stop-color="#e900a2"/><stop offset="0.9950" stop-color="#e900a1"/></linearGradient><linearGradient id="g91" gradientUnits="userSpaceOnUse" x1="978.7" x2="1265.2" y1="0" y2="0"><stop offset="0.0052" stop-color="#0089e4"/><stop offset="0.2173" stop-color="#0084fe"/><stop offset="0.2314" stop-color="#3482ff"/><stop offset="0.2597" stop-color="#607eff"/><stop offset="0.3445" stop-color="#9970ff"/><stop offset="0.4717" stop-color="#cd4cff"/><stop offset="0.5283" stop-color="#e024ff"/><stop offset="0.5424" stop-color="#e400ff"/><stop offset="0.6272" stop-color="#c000c0"/><stop offset="0.7262" stop-color="#c900b6"/><stop offset="0.9524" stop-color="#e700ac"/><stop offset="0.9948" stop-color="#ea00a8"/></linearGradient><linearGradient id="g92" gradientUnits="userSpaceOnUse" x1="980.9" x2="1252.3" y1="0" y2="0"><stop offset="0.0055" stop-color="#0085e6"/><stop offset="0.2122" stop-color="#007efe"/><stop offset="0.2269" stop-color="#2b7dff"/><stop offset="0.2417" stop-color="#497aff"/><stop offset="0.2860" stop-color="#7474ff"/><stop offset="0.4041" stop-color="#b05aff"/><stop offset="0.4926" stop-color="#cf34ff"/><stop offset="0.5074" stop-color="#d326ff"/><stop offset="0.5221" stop-color="#d800ff"/><stop offset="0.5664" stop-color="#cd00e4"/><stop offset="0.6255" stop-color="#be00be"/><stop offset="0.6993" stop-color="#c500be"/><stop offset="0.9207" stop-color="#e600b6"/><stop offset="0.9945" stop-color="#eb00b0"/></linearGradient><linearGradient id="g93" gradientUnits="userSpaceOnUse" x1="983.3" x2="1239.4" y1="0" y2="0"><stop offset="0.0059" stop-color="#0081e9"/><stop offset="0.2098" stop-color="#0078fe"/><stop offset="0.2255" stop-color="#2d76ff"/><stop offset="0.2412" stop-color="#4a74ff"/><stop offset="0.3039" stop-color="#7e69ff"/><stop offset="0.4451" stop-color="#ba41ff"/><stop offset="0.4765" stop-color="#c42eff"/><stop offset="0.5078" stop-color="#cd00fe"/><stop offset="0.5863" stop-color="#ba00ca"/><stop offset="0.6333" stop-color="#bb00bb"/><stop offset="0.7431" stop-color="#d200c8"/><stop offset="0.9941" stop-color="#ec00b8"/></linearGradient><linearGradient id="g94" gradientUnits="userSpaceOnUse" x1="985.7" x2="1226.4" y1="0" y2="0"><stop offset="0.0062" stop-color="#007deb"/><stop offset="0.2071" stop-color="#0071fe"/><stop offset="0.2238" stop-color="#2f6fff"/><stop offset="0.2406" stop-color="#4b6cff"/><stop offset="0.3075" stop-color="#7e60ff"/><stop offset="0.4247" stop-color="#ae3dff"/><stop offset="0.4582" stop-color="#b928ff"/><stop offset="0.4749" stop-color="#be0dff"/><stop offset="0.4916" stop-color="#c200fd"/><stop offset="0.5753" stop-color="#b200c8"/><stop offset="0.6423" stop-color="#bc00bc"/><stop offset="0.7427" stop-color="#d600d3"/><stop offset="0.9938" stop-color="#ed00c0"/></linearGradient><linearGradient id="g95" gradientUnits="userSpaceOnUse" x1="988.1" x2="1213.5" y1="0" y2="0"><stop offset="0.0067" stop-color="#0078ed"/><stop offset="0.2040" stop-color="#006afe"/><stop offset="0.2219" stop-color="#3167ff"/><stop offset="0.2578" stop-color="#5c61ff"/><stop offset="0.3475" stop-color="#8e4dff"/><stop offset="0.4193" stop-color="#a82fff"/><stop offset="0.4372" stop-color="#ae20ff"/><stop offset="0.4552" stop-color="#b300ff"/><stop offset="0.5269" stop-color="#af00e0"/><stop offset="0.5987" stop-color="#af00bc"/><stop offset="0.6884" stop-color="#c800c8"/><stop offset="0.7781" stop-color="#e000de"/><stop offset="0.9933" stop-color="#ee00ca"/></linearGradient><linearGradient id="g96" gradientUnits="userSpaceOnUse" x1="990.5" x2="1200.6" y1="0" y2="0"><stop offset="0.0071" stop-color="#0072ef"/><stop offset="0.2004" stop-color="#0062fe"/><stop offset="0.2197" stop-color="#325fff"/><stop offset="0.2584" stop-color="#5d58ff"/><stop offset="0.3744" stop-color="#9535ff"/><stop offset="0.4130" stop-color="#a216ff"/><stop offset="0.4324" stop-color="#a700fe"/><stop offset="0.5290" stop-color="#aa00d9"/><stop offset="0.6063" stop-color="#af00bb"/><stop offset="0.7803" stop-color="#e100e1"/><stop offset="0.8576" stop-color="#ea00e3"/><stop offset="0.9929" stop-color="#f000d4"/></linearGradient><linearGradient id="g97" gradientUnits="userSpaceOnUse" x1="992.9" x2="1187.7" y1="0" y2="0"><stop offset="0.0077" stop-color="#006bf1"/><stop offset="0.1962" stop-color="#0059ff"/><stop offset="0.2172" stop-color="#3355ff"/><stop offset="0.2591" stop-color="#5d4dff"/><stop offset="0.3429" stop-color="#8631ff"/><stop offset="0.3638" stop-color="#8d24ff"/><stop offset="0.3848" stop-color="#9503ff"/><stop offset="0.4895" stop-color="#a200e6"/><stop offset="0.6152" stop-color="#b600c1"/><stop offset="0.6990" stop-color="#cd00cd"/><stop offset="0.8666" stop-color="#ee00ee"/><stop offset="0.9923" stop-color="#f100de"/></linearGradient><linearGradient id="g98" gradientUnits="userSpaceOnUse" x1="995.7" x2="1174.8" y1="0" y2="0"><stop offset="0.0084" stop-color="#0064f3"/><stop offset="0.1871" stop-color="#004ffe"/><stop offset="0.2095" stop-color="#304bff"/><stop offset="0.2542" stop-color="#5b40ff"/><stop offset="0.3212" stop-color="#7b22ff"/><stop offset="0.3436" stop-color="#8300ff"/><stop offset="0.4777" stop-color="#9f00e5"/><stop offset="0.6117" stop-color="#ba00c9"/><stop offset="0.7011" stop-color="#ce00ce"/><stop offset="0.9246" stop-color="#f200f2"/><stop offset="0.9916" stop-color="#f300ea"/></linearGradient><linearGradient id="g99" gradientUnits="userSpaceOnUse" x1="998.7" x2="1161.8" y1="0" y2="0"><stop offset="0.0092" stop-color="#005bf5"/><stop offset="0.1810" stop-color="#0042ff"/><stop offset="0.2055" stop-color="#363cff"/><stop offset="0.2546" stop-color="#5c29ff"/><stop offset="0.3037" stop-color="#7300ff"/><stop offset="0.6227" stop-color="#c200cf"/><stop offset="0.7699" stop-color="#db00db"/><stop offset="0.9908" stop-color="#f500f5"/></linearGradient><linearGradient id="g100" gradientUnits="userSpaceOnUse" x1="1001.7" x2="1148.9" y1="0" y2="0"><stop offset="0.0102" stop-color="#004ff7"/><stop offset="0.1735" stop-color="#002fff"/><stop offset="0.2007" stop-color="#3a22ff"/><stop offset="0.2279" stop-color="#4f02ff"/><stop offset="0.3367" stop-color="#7900f9"/><stop offset="0.5544" stop-color="#b600da"/><stop offset="0.7177" stop-color="#d800d8"/><stop offset="0.9898" stop-color="#f200f2"/></linearGradient><linearGradient id="g101" gradientUnits="userSpaceOnUse" x1="1004.7" x2="1136.0" y1="0" y2="0"><stop offset="0.0114" stop-color="#003ff8"/><stop offset="0.1030" stop-color="#0028fd"/><stop offset="0.1336" stop-color="#0018fe"/><stop offset="0.1641" stop-color="#1100ff"/><stop offset="0.1946" stop-color="#3e00ff"/><stop offset="0.2862" stop-color="#6900fa"/><stop offset="0.4695" stop-color="#a700e6"/><stop offset="0.7443" stop-color="#dd00dd"/><stop offset="0.9886" stop-color="#f000f0"/></linearGradient><linearGradient id="g102" gradientUnits="userSpaceOnUse" x1="1008.4" x2="1123.1" y1="0" y2="0"><stop offset="0.0131" stop-color="#001efa"/><stop offset="0.0492" stop-color="#0000fc"/><stop offset="0.1213" stop-color="#0000fe"/><stop offset="0.1574" stop-color="#2e00fe"/><stop offset="0.2295" stop-color="#5800fb"/><stop offset="0.3377" stop-color="#8a00f3"/><stop offset="0.5902" stop-color="#c500e1"/><stop offset="0.7705" stop-color="#e200e2"/><stop offset="0.9869" stop-color="#ed00ed"/></linearGradient><linearGradient id="g103" gradientUnits="userSpaceOnUse" x1="1012.2" x2="1110.1" y1="0" y2="0"><stop offset="0.0153" stop-color="#0000fc"/><stop offset="0.0996" stop-color="#0000fe"/><stop offset="0.1418" stop-color="#3b00fd"/><stop offset="0.1839" stop-color="#5d00fb"/><stop offset="0.3103" stop-color="#9000f3"/><stop offset="0.7318" stop-color="#e000e5"/><stop offset="0.9847" stop-color="#eb00eb"/></linearGradient><linearGradient id="g104" gradientUnits="userSpaceOnUse" x1="1016.7" x2="1097.2" y1="0" y2="0"><stop offset="0.0186" stop-color="#2900fe"/><stop offset="0.1200" stop-color="#6800fc"/><stop offset="0.2720" stop-color="#9600f4"/><stop offset="0.7787" stop-color="#e600e9"/><stop offset="0.9814" stop-color="#ec00ec"/></linearGradient><linearGradient id="g105" gradientUnits="userSpaceOnUse" x1="1021.9" x2="1084.3" y1="0" y2="0"><stop offset="0.0241" stop-color="#7600fc"/><stop offset="0.2960" stop-color="#ab00f3"/><stop offset="0.9080" stop-color="#ec00ec"/><stop offset="0.9759" stop-color="#ed00ed"/></linearGradient><linearGradient id="g106" gradientUnits="userSpaceOnUse" x1="1028.2" x2="1071.4" y1="0" y2="0"><stop offset="0.0347" stop-color="#a000f8"/><stop offset="0.9653" stop-color="#ed00ef"/></linearGradient><linearGradient id="g107" gradientUnits="userSpaceOnUse" x1="1035.0" x2="1058.5" y1="0" y2="0"><stop offset="0.0640" stop-color="#be00f5"/><stop offset="0.9360" stop-color="#e300f1"/></linearGradient><linearGradient id="g108" gradientUnits="userSpaceOnUse" x1="1041.4" x2="1046.7" y1="0" y2="0"><stop offset="0.2851" stop-color="#d500f4"/><stop offset="0.7149" stop-color="#d900f4"/></linearGradient><linearGradient id="g109" gradientUnits="userSpaceOnUse" x1="1041.4" x2="1046.7" y1="0" y2="0"><stop offset="0.2851" stop-color="#d500f4"/><stop offset="0.7149" stop-color="#d900f4"/></linearGradient>
<clipPath id="locus"><polygon points="1044.9,2827.6 1044.9,2827.6 1044.7,2827.7 1044.6,2827.7 1044.3,2827.8 1044.1,2827.8 1043.8,2827.8 1043.4,2827.8 1042.8,2827.5 1042.0,2827.0 1040.9,2826.1 1039.3,2824.8 1037.4,2823.0 1034.8,2820.8 1031.3,2817.7 1027.0,2813.8 1021.5,2808.4 1014.9,2800.5 1006.0,2786.5 994.8,2764.0 980.5,2728.3 962.9,2675.4 944.8,2602.0 927.8,2510.4 915.9,2412.6 912.5,2322.1 920.3,2247.8 939.8,2199.8 967.3,2182.8 998.3,2188.7 1029.9,2204.5 1059.6,2223.4 1088.1,2244.7 1116.3,2268.0 1144.1,2292.9 1171.9,2318.9 1199.8,2345.6 1227.5,2372.8 1255.0,2399.9 1282.0,2426.8 1308.2,2452.9 1333.4,2478.0 1357.0,2501.5 1378.6,2523.0 1397.3,2541.7 1413.8,2558.1 1427.5,2571.6 1438.6,2582.8 1447.5,2591.6 1454.6,2598.6 1460.2,2604.3 1465.0,2609.1 1468.9,2613.0 1472.0,2616.0 1474.3,2618.3 1476.1,2620.1 1477.4,2621.4 1478.3,2622.3 1479.0,2623.0 1479.5,2623.5 1480.1,2624.1 1480.6,2624.6 1480.9,2624.9 1481.0,2625.0 1481.1,2625.1"/></clipPath>
<filter id="vb" x="-5%" y="-5%" width="110%" height="110%"><feGaussianBlur stdDeviation="3.5 3.5"/></filter></defs>
<g clip-path="url(#locus)"><g filter="url(#vb)"><rect x="935.5" y="2176.8" width="65.4" height="6.6" fill="url(#g0)"/><rect x="931.4" y="2182.8" width="82.6" height="6.6" fill="url(#g1)"/><rect x="921.7" y="2188.8" width="113.8" height="6.6" fill="url(#g2)"/><rect x="911.9" y="2194.8" width="135.5" height="6.6" fill="url(#g3)"/><rect x="907.1" y="2200.8" width="152.3" height="6.6" fill="url(#g4)"/><rect x="904.7" y="2206.8" width="164.5" height="6.6" fill="url(#g5)"/><rect x="902.3" y="2212.8" width="176.3" height="6.6" fill="url(#g6)"/><rect x="899.8" y="2218.8" width="188.2" height="6.6" fill="url(#g7)"/><rect x="897.4" y="2224.8" width="199.1" height="6.6" fill="url(#g8)"/><rect x="895.0" y="2230.8" width="209.5" height="6.6" fill="url(#g9)"/><rect x="892.6" y="2236.8" width="220.0" height="6.6" fill="url(#g10)"/><rect x="890.1" y="2242.8" width="230.4" height="6.6" fill="url(#g11)"/><rect x="888.9" y="2248.8" width="238.9" height="6.6" fill="url(#g12)"/><rect x="888.3" y="2254.8" width="246.7" height="6.6" fill="url(#g13)"/><rect x="887.6" y="2260.8" width="254.6" height="6.6" fill="url(#g14)"/><rect x="887.0" y="2266.8" width="262.3" height="6.6" fill="url(#g15)"/><rect x="886.4" y="2272.8" width="269.6" height="6.6" fill="url(#g16)"/><rect x="885.8" y="2278.8" width="277.0" height="6.6" fill="url(#g17)"/><rect x="885.1" y="2284.8" width="284.3" height="6.6" fill="url(#g18)"/><rect x="884.5" y="2290.8" width="291.6" height="6.6" fill="url(#g19)"/><rect x="883.9" y="2296.8" width="298.7" height="6.6" fill="url(#g20)"/><rect x="883.2" y="2302.8" width="305.7" height="6.6" fill="url(#g21)"/><rect x="882.6" y="2308.8" width="312.8" height="6.6" fill="url(#g22)"/><rect x="882.0" y="2314.8" width="319.8" height="6.6" fill="url(#g23)"/><rect x="881.6" y="2320.8" width="326.4" height="6.6" fill="url(#g24)"/><rect x="881.8" y="2326.8" width="332.5" height="6.6" fill="url(#g25)"/><rect x="882.0" y="2332.8" width="338.5" height="6.6" fill="url(#g26)"/><rect x="882.3" y="2338.8" width="344.5" height="6.6" fill="url(#g27)"/><rect x="882.5" y="2344.8" width="350.5" height="6.6" fill="url(#g28)"/><rect x="882.7" y="2350.8" width="356.4" height="6.6" fill="url(#g29)"/><rect x="882.9" y="2356.8" width="362.3" height="6.6" fill="url(#g30)"/><rect x="883.1" y="2362.8" width="368.2" height="6.6" fill="url(#g31)"/><rect x="883.4" y="2368.8" width="374.1" height="6.6" fill="url(#g32)"/><rect x="883.6" y="2374.8" width="380.0" height="6.6" fill="url(#g33)"/><rect x="883.8" y="2380.8" width="385.8" height="6.6" fill="url(#g34)"/><rect x="884.0" y="2386.8" width="391.7" height="6.6" fill="url(#g35)"/><rect x="884.3" y="2392.8" width="397.6" height="6.6" fill="url(#g36)"/><rect x="884.5" y="2398.8" width="403.4" height="6.6" fill="url(#g37)"/><rect x="884.7" y="2404.8" width="409.2" height="6.6" fill="url(#g38)"/><rect x="885.0" y="2410.8" width="414.9" height="6.6" fill="url(#g39)"/><rect x="885.8" y="2416.8" width="420.2" height="6.6" fill="url(#g40)"/><rect x="886.5" y="2422.8" width="425.5" height="6.6" fill="url(#g41)"/><rect x="887.2" y="2428.8" width="430.8" height="6.6" fill="url(#g42)"/><rect x="887.9" y="2434.8" width="436.1" height="6.6" fill="url(#g43)"/><rect x="888.7" y="2440.8" width="441.4" height="6.6" fill="url(#g44)"/><rect x="889.4" y="2446.8" width="446.7" height="6.6" fill="url(#g45)"/><rect x="890.1" y="2452.8" width="452.0" height="6.6" fill="url(#g46)"/><rect x="890.9" y="2458.8" width="457.3" height="6.6" fill="url(#g47)"/><rect x="891.6" y="2464.8" width="462.6" height="6.6" fill="url(#g48)"/><rect x="892.3" y="2470.8" width="467.8" height="6.6" fill="url(#g49)"/><rect x="893.1" y="2476.8" width="473.1" height="6.6" fill="url(#g50)"/><rect x="893.8" y="2482.8" width="478.4" height="6.6" fill="url(#g51)"/><rect x="894.5" y="2488.8" width="483.8" height="6.6" fill="url(#g52)"/><rect x="895.2" y="2494.8" width="489.1" height="6.6" fill="url(#g53)"/><rect x="896.0" y="2500.8" width="494.4" height="6.6" fill="url(#g54)"/><rect x="896.7" y="2506.8" width="499.6" height="6.6" fill="url(#g55)"/><rect x="897.8" y="2512.8" width="504.6" height="6.6" fill="url(#g56)"/><rect x="898.9" y="2518.8" width="509.4" height="6.6" fill="url(#g57)"/><rect x="900.0" y="2524.8" width="514.3" height="6.6" fill="url(#g58)"/><rect x="901.1" y="2530.8" width="519.2" height="6.6" fill="url(#g59)"/><rect x="902.3" y="2536.8" width="524.2" height="6.6" fill="url(#g60)"/><rect x="903.4" y="2542.8" width="529.1" height="6.6" fill="url(#g61)"/><rect x="904.5" y="2548.8" width="534.0" height="6.6" fill="url(#g62)"/><rect x="905.6" y="2554.8" width="538.9" height="6.6" fill="url(#g63)"/><rect x="906.7" y="2560.8" width="543.8" height="6.6" fill="url(#g64)"/><rect x="907.8" y="2566.8" width="548.8" height="6.6" fill="url(#g65)"/><rect x="908.9" y="2572.8" width="553.7" height="6.6" fill="url(#g66)"/><rect x="910.1" y="2578.8" width="558.6" height="6.6" fill="url(#g67)"/><rect x="911.2" y="2584.8" width="563.5" height="6.6" fill="url(#g68)"/><rect x="912.3" y="2590.8" width="568.4" height="6.6" fill="url(#g69)"/><rect x="913.4" y="2596.8" width="573.3" height="6.6" fill="url(#g70)"/><rect x="914.8" y="2602.8" width="578.0" height="6.6" fill="url(#g71)"/><rect x="916.2" y="2608.8" width="582.5" height="6.6" fill="url(#g72)"/><rect x="917.7" y="2614.8" width="587.1" height="6.6" fill="url(#g73)"/><rect x="919.2" y="2620.8" width="591.6" height="6.6" fill="url(#g74)"/><rect x="920.7" y="2626.8" width="581.3" height="6.6" fill="url(#g75)"/><rect x="922.2" y="2632.8" width="566.9" height="6.6" fill="url(#g76)"/><rect x="923.7" y="2638.8" width="552.5" height="6.6" fill="url(#g77)"/><rect x="925.1" y="2644.8" width="538.1" height="6.6" fill="url(#g78)"/><rect x="926.6" y="2650.8" width="523.6" height="6.6" fill="url(#g79)"/><rect x="928.1" y="2656.8" width="509.2" height="6.6" fill="url(#g80)"/><rect x="929.6" y="2662.8" width="494.8" height="6.6" fill="url(#g81)"/><rect x="931.1" y="2668.8" width="480.4" height="6.6" fill="url(#g82)"/><rect x="932.8" y="2674.8" width="465.8" height="6.6" fill="url(#g83)"/><rect x="934.8" y="2680.8" width="450.9" height="6.6" fill="url(#g84)"/><rect x="936.8" y="2686.8" width="436.0" height="6.6" fill="url(#g85)"/><rect x="938.7" y="2692.8" width="421.1" height="6.6" fill="url(#g86)"/><rect x="940.7" y="2698.8" width="406.2" height="6.6" fill="url(#g87)"/><rect x="942.7" y="2704.8" width="391.2" height="6.6" fill="url(#g88)"/><rect x="944.7" y="2710.8" width="376.3" height="6.6" fill="url(#g89)"/><rect x="946.7" y="2716.8" width="361.4" height="6.6" fill="url(#g90)"/><rect x="948.7" y="2722.8" width="346.5" height="6.6" fill="url(#g91)"/><rect x="950.9" y="2728.8" width="331.3" height="6.6" fill="url(#g92)"/><rect x="953.3" y="2734.8" width="316.0" height="6.6" fill="url(#g93)"/><rect x="955.7" y="2740.8" width="300.7" height="6.6" fill="url(#g94)"/><rect x="958.1" y="2746.8" width="285.4" height="6.6" fill="url(#g95)"/><rect x="960.5" y="2752.8" width="270.1" height="6.6" fill="url(#g96)"/><rect x="962.9" y="2758.8" width="254.8" height="6.6" fill="url(#g97)"/><rect x="965.7" y="2764.8" width="239.1" height="6.6" fill="url(#g98)"/><rect x="968.7" y="2770.8" width="223.1" height="6.6" fill="url(#g99)"/><rect x="971.7" y="2776.8" width="207.2" height="6.6" fill="url(#g100)"/><rect x="974.7" y="2782.8" width="191.3" height="6.6" fill="url(#g101)"/><rect x="978.4" y="2788.8" width="174.7" height="6.6" fill="url(#g102)"/><rect x="982.2" y="2794.8" width="157.9" height="6.6" fill="url(#g103)"/><rect x="986.7" y="2800.8" width="140.5" height="6.6" fill="url(#g104)"/><rect x="991.9" y="2806.8" width="122.4" height="6.6" fill="url(#g105)"/><rect x="998.2" y="2812.8" width="103.2" height="6.6" fill="url(#g106)"/><rect x="1005.0" y="2818.8" width="83.4" height="6.6" fill="url(#g107)"/><rect x="1011.4" y="2824.8" width="65.3" height="6.6" fill="url(#g108)"/><rect x="1011.4" y="2830.8" width="65.3" height="6.6" fill="url(#g109)"/></g></g>
<path d="M909.5,2170.2 V2833.0" stroke="#3a3a3a" stroke-width="3.4" fill="none"/>
<path d="M907.8,2831.5 H1571.8" stroke="#3a3a3a" stroke-width="3.4" fill="none"/>
<path d="M1065.1,2831.5 v-7 M909.5,2675.9 h7" stroke="#3a3a3a" stroke-width="3"/>
<path d="M1220.7,2831.5 v-7 M909.5,2520.3 h7" stroke="#3a3a3a" stroke-width="3"/>
<path d="M1376.3,2831.5 v-7 M909.5,2364.7 h7" stroke="#3a3a3a" stroke-width="3"/>
<path d="M1531.9,2831.5 v-7 M909.5,2209.1 h7" stroke="#3a3a3a" stroke-width="3"/>
<text x="891.5" y="2910.4" font-size="66.0" fill="#262626">0</text>
<text x="889.5" y="2856.1" font-size="66.0" fill="#262626" text-anchor="end">0</text>
<text x="1022.9" y="2910.4" font-size="66.0" fill="#262626">0.2</text>
<text x="889.5" y="2700.5" font-size="66.0" fill="#262626" text-anchor="end">0.2</text>
<text x="1177.2" y="2910.4" font-size="66.0" fill="#262626">0.4</text>
<text x="889.5" y="2544.9" font-size="66.0" fill="#262626" text-anchor="end">0.4</text>
<text x="1333.3" y="2910.4" font-size="66.0" fill="#262626">0.6</text>
<text x="889.5" y="2389.3" font-size="66.0" fill="#262626" text-anchor="end">0.6</text>
<text x="1489.2" y="2910.4" font-size="66.0" fill="#262626">0.8</text>
<text x="889.5" y="2233.7" font-size="66.0" fill="#262626" text-anchor="end">0.8</text>
<text x="1152.6" y="2993.6" font-size="72.1" fill="#262626">CIE x</text>
<text transform="translate(784.0,2587.2) rotate(-90)" font-size="71.5" fill="#262626">CIE y</text>
<circle cx="1294.7" cy="2488.7" r="10.6" fill="none" stroke="#000" stroke-width="4.2"/>
<circle cx="1324.4" cy="2520.6" r="12.6" fill="#fff"/><circle cx="1324.4" cy="2520.6" r="7.6" fill="#000"/>
<circle cx="1319.5" cy="2602.4" r="10.6" fill="none" stroke="#000" stroke-width="4.2"/>
<circle cx="1347.3" cy="2600.6" r="12.6" fill="#fff"/><circle cx="1347.3" cy="2600.6" r="7.6" fill="#000"/>
<line x1="1267.1" y1="2503.2" x2="1304.6" y2="2544.9" stroke="#000" stroke-width="2.6"/>
<polygon points="1317.2,2558.9 1290.0,2544.4 1304.6,2544.9 1305.6,2530.3" fill="#000"/>
<line x1="1315.0" y1="2638.8" x2="1352.8" y2="2632.9" stroke="#000" stroke-width="2.6"/>
<polygon points="1371.4,2630.0 1344.4,2644.8 1352.8,2632.9 1341.1,2624.1" fill="#000"/>
<rect x="1181.5" y="2160.3" width="387.8" height="170.3" fill="#fff" stroke="#3a3a3a" stroke-width="3.6"/>
<circle cx="1233" cy="2197.8" r="10" fill="none" stroke="#000" stroke-width="4"/>
<circle cx="1233" cy="2280.7" r="6.6" fill="#000"/>
<text x="1282.0" y="2219.8" font-size="60.8" fill="#000">none</text>
<text fill="#000"><tspan x="1283.0" y="2288.3" font-size="61.2">Si</tspan><tspan x="1333.9" y="2317.3" font-size="48">3</tspan><tspan x="1357.9" y="2288.3" font-size="61.2">N</tspan><tspan x="1402.2" y="2317.3" font-size="48">4</tspan><tspan x="1426.2" y="2288.3" font-size="61.2"> layer</tspan></text>
</g>
</svg></body></html>
